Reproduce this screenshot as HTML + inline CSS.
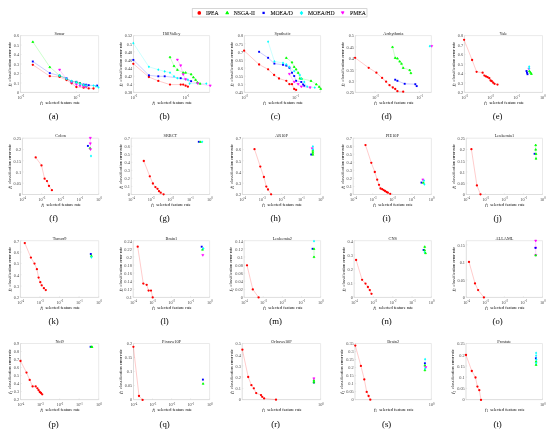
<!DOCTYPE html>
<html><head><meta charset="utf-8"><title>Feature selection results</title>
<style>
html,body{margin:0;padding:0;background:#fff;}
svg{display:block;filter:blur(0.3px);}
.t{font-family:"Liberation Serif",serif;font-size:4.3px;fill:#4a4a4a;}
.tt{fill:#1a1a1a;}
.al{fill:#000;}
.lg{font-family:"Liberation Serif",serif;font-size:5.7px;fill:#111;stroke:#111;stroke-width:0.1;}
.lt{font-family:"Liberation Serif",serif;font-size:8.1px;fill:#111;stroke:#111;stroke-width:0.04;}
</style></head><body>
<svg width="550" height="435" viewBox="0 0 550 435">
<rect width="550" height="435" fill="#fff"/>
<path d="M20.40 35.60H98.60V92.40" fill="none" stroke="#e4e4e4" stroke-width="0.8"/>
<path d="M20.40 35.60V92.40H98.60" fill="none" stroke="#d8d8d8" stroke-width="0.85"/>
<text x="59.50" y="34.80" text-anchor="middle" class="t tt">Sonar</text>
<text x="19.10" y="37.45" text-anchor="end" class="t">0.6</text>
<line x1="20.40" y1="35.60" x2="21.50" y2="35.60" stroke="#d8d8d8" stroke-width="0.6"/>
<text x="19.10" y="46.92" text-anchor="end" class="t">0.5</text>
<line x1="20.40" y1="45.07" x2="21.50" y2="45.07" stroke="#d8d8d8" stroke-width="0.6"/>
<text x="19.10" y="56.38" text-anchor="end" class="t">0.4</text>
<line x1="20.40" y1="54.53" x2="21.50" y2="54.53" stroke="#d8d8d8" stroke-width="0.6"/>
<text x="19.10" y="65.85" text-anchor="end" class="t">0.3</text>
<line x1="20.40" y1="64.00" x2="21.50" y2="64.00" stroke="#d8d8d8" stroke-width="0.6"/>
<text x="19.10" y="75.32" text-anchor="end" class="t">0.2</text>
<line x1="20.40" y1="73.47" x2="21.50" y2="73.47" stroke="#d8d8d8" stroke-width="0.6"/>
<text x="19.10" y="84.78" text-anchor="end" class="t">0.1</text>
<line x1="20.40" y1="82.93" x2="21.50" y2="82.93" stroke="#d8d8d8" stroke-width="0.6"/>
<text x="19.10" y="94.25" text-anchor="end" class="t">0</text>
<line x1="20.40" y1="92.40" x2="21.50" y2="92.40" stroke="#d8d8d8" stroke-width="0.6"/>
<line x1="20.50" y1="92.40" x2="20.50" y2="91.30" stroke="#d8d8d8" stroke-width="0.6"/>
<text x="17.40" y="99.10" class="t">10<tspan dy="-1.8" font-size="3.01">-2</tspan></text>
<line x1="76.30" y1="92.40" x2="76.30" y2="91.30" stroke="#d8d8d8" stroke-width="0.6"/>
<text x="73.20" y="99.10" class="t">10<tspan dy="-1.8" font-size="3.01">-1</tspan></text>
<text x="60.10" y="103.70" text-anchor="middle" class="t al" style="font-size:4.3px"><tspan font-style="italic" style="font-size:4.7px">f</tspan><tspan style="font-size:3.1px" dy="1.5">1</tspan><tspan dy="-1.5" dx="1.2"> selected feature rate</tspan></text>
<text transform="translate(10.92,64.00) rotate(-90)" text-anchor="middle" class="t al" style="font-size:4.3px"><tspan font-style="italic" style="font-size:4.7px">f</tspan><tspan style="font-size:3.1px" dy="1.5">2</tspan><tspan dy="-1.5" dx="0.9"> classification error rate</tspan></text>
<text transform="translate(53.60,118.75) scale(1.08,1)" text-anchor="middle" class="lt">(a)</text>
<polyline points="32.80,64.80 49.80,76.20 59.60,76.90 66.50,80.10 71.60,83.30 76.40,87.00 83.60,87.70 88.70,88.40 93.50,88.50" fill="none" stroke="#ff0000" stroke-width="0.4" stroke-opacity="0.5"/>
<polyline points="32.80,61.50 49.80,73.10 59.60,75.70 66.50,78.30 71.60,81.50 76.40,81.80 80.00,83.30 83.60,84.50 86.20,84.70 88.70,85.20 97.10,85.60" fill="none" stroke="#0000ff" stroke-width="0.4" stroke-opacity="0.5"/>
<polyline points="32.80,41.80 49.80,67.00 59.60,75.50 66.50,78.90 71.60,81.30 76.40,82.30 80.00,83.30 83.60,85.20 86.20,86.20" fill="none" stroke="#00ff00" stroke-width="0.4" stroke-opacity="0.5"/>
<polyline points="59.60,69.90 66.50,79.00 71.60,82.30 76.40,84.50 80.00,85.90 83.60,86.60 86.20,87.00" fill="none" stroke="#ff00ff" stroke-width="0.4" stroke-opacity="0.5"/>
<polyline points="59.60,75.50 66.50,78.60 71.60,81.00 76.40,82.50 80.00,84.00 83.60,85.00 86.20,85.50 93.50,85.60 96.00,86.30 98.50,87.40" fill="none" stroke="#00ffff" stroke-width="0.4" stroke-opacity="0.5"/>
<circle cx="32.80" cy="64.80" r="1.15" fill="#ff0000"/>
<circle cx="49.80" cy="76.20" r="1.15" fill="#ff0000"/>
<circle cx="59.60" cy="76.90" r="1.15" fill="#ff0000"/>
<circle cx="66.50" cy="80.10" r="1.15" fill="#ff0000"/>
<circle cx="71.60" cy="83.30" r="1.15" fill="#ff0000"/>
<circle cx="76.40" cy="87.00" r="1.15" fill="#ff0000"/>
<circle cx="83.60" cy="87.70" r="1.15" fill="#ff0000"/>
<circle cx="88.70" cy="88.40" r="1.15" fill="#ff0000"/>
<circle cx="93.50" cy="88.50" r="1.15" fill="#ff0000"/>
<rect x="31.85" y="60.55" width="1.90" height="1.90" fill="#0000ff"/>
<rect x="48.85" y="72.15" width="1.90" height="1.90" fill="#0000ff"/>
<rect x="58.65" y="74.75" width="1.90" height="1.90" fill="#0000ff"/>
<rect x="65.55" y="77.35" width="1.90" height="1.90" fill="#0000ff"/>
<rect x="70.65" y="80.55" width="1.90" height="1.90" fill="#0000ff"/>
<rect x="75.45" y="80.85" width="1.90" height="1.90" fill="#0000ff"/>
<rect x="79.05" y="82.35" width="1.90" height="1.90" fill="#0000ff"/>
<rect x="82.65" y="83.55" width="1.90" height="1.90" fill="#0000ff"/>
<rect x="85.25" y="83.75" width="1.90" height="1.90" fill="#0000ff"/>
<rect x="87.75" y="84.25" width="1.90" height="1.90" fill="#0000ff"/>
<rect x="96.15" y="84.65" width="1.90" height="1.90" fill="#0000ff"/>
<path d="M32.80 40.85L33.75 42.51L31.85 42.51Z" fill="#00ff00" stroke="#00ff00" stroke-width="0.75" stroke-linejoin="round"/>
<path d="M49.80 66.05L50.75 67.71L48.85 67.71Z" fill="#00ff00" stroke="#00ff00" stroke-width="0.75" stroke-linejoin="round"/>
<path d="M59.60 74.55L60.55 76.21L58.65 76.21Z" fill="#00ff00" stroke="#00ff00" stroke-width="0.75" stroke-linejoin="round"/>
<path d="M66.50 77.95L67.45 79.61L65.55 79.61Z" fill="#00ff00" stroke="#00ff00" stroke-width="0.75" stroke-linejoin="round"/>
<path d="M71.60 80.35L72.55 82.01L70.65 82.01Z" fill="#00ff00" stroke="#00ff00" stroke-width="0.75" stroke-linejoin="round"/>
<path d="M76.40 81.35L77.35 83.01L75.45 83.01Z" fill="#00ff00" stroke="#00ff00" stroke-width="0.75" stroke-linejoin="round"/>
<path d="M80.00 82.35L80.95 84.01L79.05 84.01Z" fill="#00ff00" stroke="#00ff00" stroke-width="0.75" stroke-linejoin="round"/>
<path d="M83.60 84.25L84.55 85.91L82.65 85.91Z" fill="#00ff00" stroke="#00ff00" stroke-width="0.75" stroke-linejoin="round"/>
<path d="M86.20 85.25L87.15 86.91L85.25 86.91Z" fill="#00ff00" stroke="#00ff00" stroke-width="0.75" stroke-linejoin="round"/>
<path d="M59.60 70.95L60.65 69.11L58.55 69.11Z" fill="#ff00ff" stroke="#ff00ff" stroke-width="0.60" stroke-linejoin="round"/>
<path d="M66.50 80.05L67.55 78.21L65.45 78.21Z" fill="#ff00ff" stroke="#ff00ff" stroke-width="0.60" stroke-linejoin="round"/>
<path d="M71.60 83.35L72.65 81.51L70.55 81.51Z" fill="#ff00ff" stroke="#ff00ff" stroke-width="0.60" stroke-linejoin="round"/>
<path d="M76.40 85.55L77.45 83.71L75.35 83.71Z" fill="#ff00ff" stroke="#ff00ff" stroke-width="0.60" stroke-linejoin="round"/>
<path d="M80.00 86.95L81.05 85.11L78.95 85.11Z" fill="#ff00ff" stroke="#ff00ff" stroke-width="0.60" stroke-linejoin="round"/>
<path d="M83.60 87.65L84.65 85.81L82.55 85.81Z" fill="#ff00ff" stroke="#ff00ff" stroke-width="0.60" stroke-linejoin="round"/>
<path d="M86.20 88.05L87.25 86.21L85.15 86.21Z" fill="#ff00ff" stroke="#ff00ff" stroke-width="0.60" stroke-linejoin="round"/>
<path d="M59.60 74.10L60.72 75.50L59.60 76.90L58.48 75.50Z" fill="#00ffff"/>
<path d="M66.50 77.20L67.62 78.60L66.50 80.00L65.38 78.60Z" fill="#00ffff"/>
<path d="M71.60 79.60L72.72 81.00L71.60 82.40L70.48 81.00Z" fill="#00ffff"/>
<path d="M76.40 81.10L77.52 82.50L76.40 83.90L75.28 82.50Z" fill="#00ffff"/>
<path d="M80.00 82.60L81.12 84.00L80.00 85.40L78.88 84.00Z" fill="#00ffff"/>
<path d="M83.60 83.60L84.72 85.00L83.60 86.40L82.48 85.00Z" fill="#00ffff"/>
<path d="M86.20 84.10L87.32 85.50L86.20 86.90L85.08 85.50Z" fill="#00ffff"/>
<path d="M93.50 84.20L94.62 85.60L93.50 87.00L92.38 85.60Z" fill="#00ffff"/>
<path d="M96.00 84.90L97.12 86.30L96.00 87.70L94.88 86.30Z" fill="#00ffff"/>
<path d="M98.50 86.00L99.62 87.40L98.50 88.80L97.38 87.40Z" fill="#00ffff"/>
<path d="M133.50 35.60H209.60V92.40" fill="none" stroke="#e4e4e4" stroke-width="0.8"/>
<path d="M133.50 35.60V92.40H209.60" fill="none" stroke="#d8d8d8" stroke-width="0.85"/>
<text x="171.55" y="34.80" text-anchor="middle" class="t tt">HillValley</text>
<text x="132.20" y="37.45" text-anchor="end" class="t">0.52</text>
<line x1="133.50" y1="35.60" x2="134.60" y2="35.60" stroke="#d8d8d8" stroke-width="0.6"/>
<text x="132.20" y="45.56" text-anchor="end" class="t">0.5</text>
<line x1="133.50" y1="43.71" x2="134.60" y2="43.71" stroke="#d8d8d8" stroke-width="0.6"/>
<text x="132.20" y="53.68" text-anchor="end" class="t">0.48</text>
<line x1="133.50" y1="51.83" x2="134.60" y2="51.83" stroke="#d8d8d8" stroke-width="0.6"/>
<text x="132.20" y="61.79" text-anchor="end" class="t">0.46</text>
<line x1="133.50" y1="59.94" x2="134.60" y2="59.94" stroke="#d8d8d8" stroke-width="0.6"/>
<text x="132.20" y="69.91" text-anchor="end" class="t">0.44</text>
<line x1="133.50" y1="68.06" x2="134.60" y2="68.06" stroke="#d8d8d8" stroke-width="0.6"/>
<text x="132.20" y="78.02" text-anchor="end" class="t">0.42</text>
<line x1="133.50" y1="76.17" x2="134.60" y2="76.17" stroke="#d8d8d8" stroke-width="0.6"/>
<text x="132.20" y="86.14" text-anchor="end" class="t">0.4</text>
<line x1="133.50" y1="84.29" x2="134.60" y2="84.29" stroke="#d8d8d8" stroke-width="0.6"/>
<text x="132.20" y="94.25" text-anchor="end" class="t">0.38</text>
<line x1="133.50" y1="92.40" x2="134.60" y2="92.40" stroke="#d8d8d8" stroke-width="0.6"/>
<line x1="133.60" y1="92.40" x2="133.60" y2="91.30" stroke="#d8d8d8" stroke-width="0.6"/>
<text x="130.50" y="99.10" class="t">10<tspan dy="-1.8" font-size="3.01">-2</tspan></text>
<line x1="185.70" y1="92.40" x2="185.70" y2="91.30" stroke="#d8d8d8" stroke-width="0.6"/>
<text x="182.60" y="99.10" class="t">10<tspan dy="-1.8" font-size="3.01">-1</tspan></text>
<text x="172.15" y="103.70" text-anchor="middle" class="t al" style="font-size:4.3px"><tspan font-style="italic" style="font-size:4.7px">f</tspan><tspan style="font-size:3.1px" dy="1.5">1</tspan><tspan dy="-1.5" dx="1.2"> selected feature rate</tspan></text>
<text transform="translate(121.87,64.00) rotate(-90)" text-anchor="middle" class="t al" style="font-size:4.3px"><tspan font-style="italic" style="font-size:4.7px">f</tspan><tspan style="font-size:3.1px" dy="1.5">2</tspan><tspan dy="-1.5" dx="0.9"> classification error rate</tspan></text>
<text transform="translate(164.60,118.75) scale(1.08,1)" text-anchor="middle" class="lt">(b)</text>
<polyline points="133.30,63.80 148.90,77.00 158.30,80.90 170.00,84.60 180.70,84.60 183.20,84.60 185.60,85.70 187.90,86.70" fill="none" stroke="#ff0000" stroke-width="0.4" stroke-opacity="0.5"/>
<polyline points="133.30,59.90 148.90,75.30 158.30,76.30 164.70,76.30 180.70,78.20 191.10,81.20" fill="none" stroke="#0000ff" stroke-width="0.4" stroke-opacity="0.5"/>
<polyline points="170.00,57.10 174.00,65.90 177.40,69.70 183.20,72.60 185.60,72.60 191.10,74.20 193.40,77.20 195.60,79.70 197.40,82.40 200.10,83.60" fill="none" stroke="#00ff00" stroke-width="0.4" stroke-opacity="0.5"/>
<polyline points="177.40,59.90 180.70,65.60 183.20,74.50 185.60,79.40 197.80,83.50 210.20,85.70" fill="none" stroke="#ff00ff" stroke-width="0.4" stroke-opacity="0.5"/>
<polyline points="133.30,43.20 148.90,66.80 158.30,69.70 164.70,71.40 170.00,72.70 174.00,76.30 177.40,78.20 187.90,79.70 189.60,83.60 206.30,83.60" fill="none" stroke="#00ffff" stroke-width="0.4" stroke-opacity="0.5"/>
<circle cx="133.30" cy="63.80" r="1.15" fill="#ff0000"/>
<circle cx="148.90" cy="77.00" r="1.15" fill="#ff0000"/>
<circle cx="158.30" cy="80.90" r="1.15" fill="#ff0000"/>
<circle cx="170.00" cy="84.60" r="1.15" fill="#ff0000"/>
<circle cx="180.70" cy="84.60" r="1.15" fill="#ff0000"/>
<circle cx="183.20" cy="84.60" r="1.15" fill="#ff0000"/>
<circle cx="185.60" cy="85.70" r="1.15" fill="#ff0000"/>
<circle cx="187.90" cy="86.70" r="1.15" fill="#ff0000"/>
<rect x="132.35" y="58.95" width="1.90" height="1.90" fill="#0000ff"/>
<rect x="147.95" y="74.35" width="1.90" height="1.90" fill="#0000ff"/>
<rect x="157.35" y="75.35" width="1.90" height="1.90" fill="#0000ff"/>
<rect x="163.75" y="75.35" width="1.90" height="1.90" fill="#0000ff"/>
<rect x="179.75" y="77.25" width="1.90" height="1.90" fill="#0000ff"/>
<rect x="190.15" y="80.25" width="1.90" height="1.90" fill="#0000ff"/>
<path d="M170.00 56.15L170.95 57.81L169.05 57.81Z" fill="#00ff00" stroke="#00ff00" stroke-width="0.75" stroke-linejoin="round"/>
<path d="M174.00 64.95L174.95 66.61L173.05 66.61Z" fill="#00ff00" stroke="#00ff00" stroke-width="0.75" stroke-linejoin="round"/>
<path d="M177.40 68.75L178.35 70.41L176.45 70.41Z" fill="#00ff00" stroke="#00ff00" stroke-width="0.75" stroke-linejoin="round"/>
<path d="M183.20 71.65L184.15 73.31L182.25 73.31Z" fill="#00ff00" stroke="#00ff00" stroke-width="0.75" stroke-linejoin="round"/>
<path d="M185.60 71.65L186.55 73.31L184.65 73.31Z" fill="#00ff00" stroke="#00ff00" stroke-width="0.75" stroke-linejoin="round"/>
<path d="M191.10 73.25L192.05 74.91L190.15 74.91Z" fill="#00ff00" stroke="#00ff00" stroke-width="0.75" stroke-linejoin="round"/>
<path d="M193.40 76.25L194.35 77.91L192.45 77.91Z" fill="#00ff00" stroke="#00ff00" stroke-width="0.75" stroke-linejoin="round"/>
<path d="M195.60 78.75L196.55 80.41L194.65 80.41Z" fill="#00ff00" stroke="#00ff00" stroke-width="0.75" stroke-linejoin="round"/>
<path d="M197.40 81.45L198.35 83.11L196.45 83.11Z" fill="#00ff00" stroke="#00ff00" stroke-width="0.75" stroke-linejoin="round"/>
<path d="M200.10 82.65L201.05 84.31L199.15 84.31Z" fill="#00ff00" stroke="#00ff00" stroke-width="0.75" stroke-linejoin="round"/>
<path d="M177.40 60.95L178.45 59.11L176.35 59.11Z" fill="#ff00ff" stroke="#ff00ff" stroke-width="0.60" stroke-linejoin="round"/>
<path d="M180.70 66.65L181.75 64.81L179.65 64.81Z" fill="#ff00ff" stroke="#ff00ff" stroke-width="0.60" stroke-linejoin="round"/>
<path d="M183.20 75.55L184.25 73.71L182.15 73.71Z" fill="#ff00ff" stroke="#ff00ff" stroke-width="0.60" stroke-linejoin="round"/>
<path d="M185.60 80.45L186.65 78.61L184.55 78.61Z" fill="#ff00ff" stroke="#ff00ff" stroke-width="0.60" stroke-linejoin="round"/>
<path d="M197.80 84.55L198.85 82.71L196.75 82.71Z" fill="#ff00ff" stroke="#ff00ff" stroke-width="0.60" stroke-linejoin="round"/>
<path d="M210.20 86.75L211.25 84.91L209.15 84.91Z" fill="#ff00ff" stroke="#ff00ff" stroke-width="0.60" stroke-linejoin="round"/>
<path d="M133.30 41.80L134.42 43.20L133.30 44.60L132.18 43.20Z" fill="#00ffff"/>
<path d="M148.90 65.40L150.02 66.80L148.90 68.20L147.78 66.80Z" fill="#00ffff"/>
<path d="M158.30 68.30L159.42 69.70L158.30 71.10L157.18 69.70Z" fill="#00ffff"/>
<path d="M164.70 70.00L165.82 71.40L164.70 72.80L163.58 71.40Z" fill="#00ffff"/>
<path d="M170.00 71.30L171.12 72.70L170.00 74.10L168.88 72.70Z" fill="#00ffff"/>
<path d="M174.00 74.90L175.12 76.30L174.00 77.70L172.88 76.30Z" fill="#00ffff"/>
<path d="M177.40 76.80L178.52 78.20L177.40 79.60L176.28 78.20Z" fill="#00ffff"/>
<path d="M187.90 78.30L189.02 79.70L187.90 81.10L186.78 79.70Z" fill="#00ffff"/>
<path d="M189.60 82.20L190.72 83.60L189.60 85.00L188.48 83.60Z" fill="#00ffff"/>
<path d="M206.30 82.20L207.42 83.60L206.30 85.00L205.18 83.60Z" fill="#00ffff"/>
<path d="M244.40 35.60H320.60V92.40" fill="none" stroke="#e4e4e4" stroke-width="0.8"/>
<path d="M244.40 35.60V92.40H320.60" fill="none" stroke="#d8d8d8" stroke-width="0.85"/>
<text x="282.50" y="34.80" text-anchor="middle" class="t tt">Synthetic</text>
<text x="243.10" y="37.45" text-anchor="end" class="t">0.8</text>
<line x1="244.40" y1="35.60" x2="245.50" y2="35.60" stroke="#d8d8d8" stroke-width="0.6"/>
<text x="243.10" y="45.56" text-anchor="end" class="t">0.75</text>
<line x1="244.40" y1="43.71" x2="245.50" y2="43.71" stroke="#d8d8d8" stroke-width="0.6"/>
<text x="243.10" y="53.68" text-anchor="end" class="t">0.7</text>
<line x1="244.40" y1="51.83" x2="245.50" y2="51.83" stroke="#d8d8d8" stroke-width="0.6"/>
<text x="243.10" y="61.79" text-anchor="end" class="t">0.65</text>
<line x1="244.40" y1="59.94" x2="245.50" y2="59.94" stroke="#d8d8d8" stroke-width="0.6"/>
<text x="243.10" y="69.91" text-anchor="end" class="t">0.6</text>
<line x1="244.40" y1="68.06" x2="245.50" y2="68.06" stroke="#d8d8d8" stroke-width="0.6"/>
<text x="243.10" y="78.02" text-anchor="end" class="t">0.55</text>
<line x1="244.40" y1="76.17" x2="245.50" y2="76.17" stroke="#d8d8d8" stroke-width="0.6"/>
<text x="243.10" y="86.14" text-anchor="end" class="t">0.5</text>
<line x1="244.40" y1="84.29" x2="245.50" y2="84.29" stroke="#d8d8d8" stroke-width="0.6"/>
<text x="243.10" y="94.25" text-anchor="end" class="t">0.45</text>
<line x1="244.40" y1="92.40" x2="245.50" y2="92.40" stroke="#d8d8d8" stroke-width="0.6"/>
<line x1="244.40" y1="92.40" x2="244.40" y2="91.30" stroke="#d8d8d8" stroke-width="0.6"/>
<text x="241.30" y="99.10" class="t">10<tspan dy="-1.8" font-size="3.01">-2</tspan></text>
<line x1="295.20" y1="92.40" x2="295.20" y2="91.30" stroke="#d8d8d8" stroke-width="0.6"/>
<text x="292.10" y="99.10" class="t">10<tspan dy="-1.8" font-size="3.01">-1</tspan></text>
<text x="283.10" y="103.70" text-anchor="middle" class="t al" style="font-size:4.3px"><tspan font-style="italic" style="font-size:4.7px">f</tspan><tspan style="font-size:3.1px" dy="1.5">1</tspan><tspan dy="-1.5" dx="1.2"> selected feature rate</tspan></text>
<text transform="translate(232.77,64.00) rotate(-90)" text-anchor="middle" class="t al" style="font-size:4.3px"><tspan font-style="italic" style="font-size:4.7px">f</tspan><tspan style="font-size:3.1px" dy="1.5">2</tspan><tspan dy="-1.5" dx="0.9"> classification error rate</tspan></text>
<text transform="translate(275.60,118.75) scale(1.08,1)" text-anchor="middle" class="lt">(c)</text>
<polyline points="244.10,50.70 259.10,64.50 268.10,69.30 274.10,75.00 279.00,78.50 286.30,80.80 289.40,84.20 292.00,84.20 294.20,89.00 296.10,89.90" fill="none" stroke="#ff0000" stroke-width="0.4" stroke-opacity="0.5"/>
<polyline points="259.10,51.80 268.10,57.80 274.40,63.60 283.00,64.80 286.30,65.60 289.40,67.80 292.00,72.70 294.20,76.00 296.10,80.80 301.30,82.00 303.10,84.50 304.30,85.70" fill="none" stroke="#0000ff" stroke-width="0.4" stroke-opacity="0.5"/>
<polyline points="286.30,57.80 292.00,62.30 294.20,66.80 296.10,69.30 298.20,72.70 299.90,78.40 301.60,78.60 311.00,80.80 316.30,84.20 319.20,86.70 320.70,88.70" fill="none" stroke="#00ff00" stroke-width="0.4" stroke-opacity="0.5"/>
<polyline points="289.40,74.10 294.20,82.00 298.20,84.20 301.30,86.70 310.10,87.60" fill="none" stroke="#ff00ff" stroke-width="0.4" stroke-opacity="0.5"/>
<polyline points="268.10,41.70 274.40,61.40 283.00,63.00 286.30,64.40 289.40,66.80 294.20,71.20 299.90,75.00 301.30,78.70 304.30,82.00 307.20,86.70 314.80,87.60" fill="none" stroke="#00ffff" stroke-width="0.4" stroke-opacity="0.5"/>
<circle cx="244.10" cy="50.70" r="1.15" fill="#ff0000"/>
<circle cx="259.10" cy="64.50" r="1.15" fill="#ff0000"/>
<circle cx="268.10" cy="69.30" r="1.15" fill="#ff0000"/>
<circle cx="274.10" cy="75.00" r="1.15" fill="#ff0000"/>
<circle cx="279.00" cy="78.50" r="1.15" fill="#ff0000"/>
<circle cx="286.30" cy="80.80" r="1.15" fill="#ff0000"/>
<circle cx="289.40" cy="84.20" r="1.15" fill="#ff0000"/>
<circle cx="292.00" cy="84.20" r="1.15" fill="#ff0000"/>
<circle cx="294.20" cy="89.00" r="1.15" fill="#ff0000"/>
<circle cx="296.10" cy="89.90" r="1.15" fill="#ff0000"/>
<rect x="258.15" y="50.85" width="1.90" height="1.90" fill="#0000ff"/>
<rect x="267.15" y="56.85" width="1.90" height="1.90" fill="#0000ff"/>
<rect x="273.45" y="62.65" width="1.90" height="1.90" fill="#0000ff"/>
<rect x="282.05" y="63.85" width="1.90" height="1.90" fill="#0000ff"/>
<rect x="285.35" y="64.65" width="1.90" height="1.90" fill="#0000ff"/>
<rect x="288.45" y="66.85" width="1.90" height="1.90" fill="#0000ff"/>
<rect x="291.05" y="71.75" width="1.90" height="1.90" fill="#0000ff"/>
<rect x="293.25" y="75.05" width="1.90" height="1.90" fill="#0000ff"/>
<rect x="295.15" y="79.85" width="1.90" height="1.90" fill="#0000ff"/>
<rect x="300.35" y="81.05" width="1.90" height="1.90" fill="#0000ff"/>
<rect x="302.15" y="83.55" width="1.90" height="1.90" fill="#0000ff"/>
<rect x="303.35" y="84.75" width="1.90" height="1.90" fill="#0000ff"/>
<path d="M286.30 56.85L287.25 58.51L285.35 58.51Z" fill="#00ff00" stroke="#00ff00" stroke-width="0.75" stroke-linejoin="round"/>
<path d="M292.00 61.35L292.95 63.01L291.05 63.01Z" fill="#00ff00" stroke="#00ff00" stroke-width="0.75" stroke-linejoin="round"/>
<path d="M294.20 65.85L295.15 67.51L293.25 67.51Z" fill="#00ff00" stroke="#00ff00" stroke-width="0.75" stroke-linejoin="round"/>
<path d="M296.10 68.35L297.05 70.01L295.15 70.01Z" fill="#00ff00" stroke="#00ff00" stroke-width="0.75" stroke-linejoin="round"/>
<path d="M298.20 71.75L299.15 73.41L297.25 73.41Z" fill="#00ff00" stroke="#00ff00" stroke-width="0.75" stroke-linejoin="round"/>
<path d="M299.90 77.45L300.85 79.11L298.95 79.11Z" fill="#00ff00" stroke="#00ff00" stroke-width="0.75" stroke-linejoin="round"/>
<path d="M301.60 77.65L302.55 79.31L300.65 79.31Z" fill="#00ff00" stroke="#00ff00" stroke-width="0.75" stroke-linejoin="round"/>
<path d="M311.00 79.85L311.95 81.51L310.05 81.51Z" fill="#00ff00" stroke="#00ff00" stroke-width="0.75" stroke-linejoin="round"/>
<path d="M316.30 83.25L317.25 84.91L315.35 84.91Z" fill="#00ff00" stroke="#00ff00" stroke-width="0.75" stroke-linejoin="round"/>
<path d="M319.20 85.75L320.15 87.41L318.25 87.41Z" fill="#00ff00" stroke="#00ff00" stroke-width="0.75" stroke-linejoin="round"/>
<path d="M320.70 87.75L321.65 89.41L319.75 89.41Z" fill="#00ff00" stroke="#00ff00" stroke-width="0.75" stroke-linejoin="round"/>
<path d="M289.40 75.15L290.45 73.31L288.35 73.31Z" fill="#ff00ff" stroke="#ff00ff" stroke-width="0.60" stroke-linejoin="round"/>
<path d="M294.20 83.05L295.25 81.21L293.15 81.21Z" fill="#ff00ff" stroke="#ff00ff" stroke-width="0.60" stroke-linejoin="round"/>
<path d="M298.20 85.25L299.25 83.41L297.15 83.41Z" fill="#ff00ff" stroke="#ff00ff" stroke-width="0.60" stroke-linejoin="round"/>
<path d="M301.30 87.75L302.35 85.91L300.25 85.91Z" fill="#ff00ff" stroke="#ff00ff" stroke-width="0.60" stroke-linejoin="round"/>
<path d="M310.10 88.65L311.15 86.81L309.05 86.81Z" fill="#ff00ff" stroke="#ff00ff" stroke-width="0.60" stroke-linejoin="round"/>
<path d="M268.10 40.30L269.22 41.70L268.10 43.10L266.98 41.70Z" fill="#00ffff"/>
<path d="M274.40 60.00L275.52 61.40L274.40 62.80L273.28 61.40Z" fill="#00ffff"/>
<path d="M283.00 61.60L284.12 63.00L283.00 64.40L281.88 63.00Z" fill="#00ffff"/>
<path d="M286.30 63.00L287.42 64.40L286.30 65.80L285.18 64.40Z" fill="#00ffff"/>
<path d="M289.40 65.40L290.52 66.80L289.40 68.20L288.28 66.80Z" fill="#00ffff"/>
<path d="M294.20 69.80L295.32 71.20L294.20 72.60L293.08 71.20Z" fill="#00ffff"/>
<path d="M299.90 73.60L301.02 75.00L299.90 76.40L298.78 75.00Z" fill="#00ffff"/>
<path d="M301.30 77.30L302.42 78.70L301.30 80.10L300.18 78.70Z" fill="#00ffff"/>
<path d="M304.30 80.60L305.42 82.00L304.30 83.40L303.18 82.00Z" fill="#00ffff"/>
<path d="M307.20 85.30L308.32 86.70L307.20 88.10L306.08 86.70Z" fill="#00ffff"/>
<path d="M314.80 86.20L315.92 87.60L314.80 89.00L313.68 87.60Z" fill="#00ffff"/>
<path d="M355.30 35.60H431.40V92.40" fill="none" stroke="#e4e4e4" stroke-width="0.8"/>
<path d="M355.30 35.60V92.40H431.40" fill="none" stroke="#d8d8d8" stroke-width="0.85"/>
<text x="393.35" y="34.80" text-anchor="middle" class="t tt">Arrhythmia</text>
<text x="354.00" y="37.45" text-anchor="end" class="t">0.5</text>
<line x1="355.30" y1="35.60" x2="356.40" y2="35.60" stroke="#d8d8d8" stroke-width="0.6"/>
<text x="354.00" y="48.81" text-anchor="end" class="t">0.45</text>
<line x1="355.30" y1="46.96" x2="356.40" y2="46.96" stroke="#d8d8d8" stroke-width="0.6"/>
<text x="354.00" y="60.17" text-anchor="end" class="t">0.4</text>
<line x1="355.30" y1="58.32" x2="356.40" y2="58.32" stroke="#d8d8d8" stroke-width="0.6"/>
<text x="354.00" y="71.53" text-anchor="end" class="t">0.35</text>
<line x1="355.30" y1="69.68" x2="356.40" y2="69.68" stroke="#d8d8d8" stroke-width="0.6"/>
<text x="354.00" y="82.89" text-anchor="end" class="t">0.3</text>
<line x1="355.30" y1="81.04" x2="356.40" y2="81.04" stroke="#d8d8d8" stroke-width="0.6"/>
<text x="354.00" y="94.25" text-anchor="end" class="t">0.25</text>
<line x1="355.30" y1="92.40" x2="356.40" y2="92.40" stroke="#d8d8d8" stroke-width="0.6"/>
<line x1="375.20" y1="92.40" x2="375.20" y2="91.30" stroke="#d8d8d8" stroke-width="0.6"/>
<text x="372.10" y="99.10" class="t">10<tspan dy="-1.8" font-size="3.01">-2</tspan></text>
<line x1="419.40" y1="92.40" x2="419.40" y2="91.30" stroke="#d8d8d8" stroke-width="0.6"/>
<text x="416.30" y="99.10" class="t">10<tspan dy="-1.8" font-size="3.01">-1</tspan></text>
<text x="393.95" y="103.70" text-anchor="middle" class="t al" style="font-size:4.3px"><tspan font-style="italic" style="font-size:4.7px">f</tspan><tspan style="font-size:3.1px" dy="1.5">1</tspan><tspan dy="-1.5" dx="1.2"> selected feature rate</tspan></text>
<text transform="translate(343.68,64.00) rotate(-90)" text-anchor="middle" class="t al" style="font-size:4.3px"><tspan font-style="italic" style="font-size:4.7px">f</tspan><tspan style="font-size:3.1px" dy="1.5">2</tspan><tspan dy="-1.5" dx="0.9"> classification error rate</tspan></text>
<text transform="translate(386.60,118.75) scale(1.08,1)" text-anchor="middle" class="lt">(d)</text>
<polyline points="355.10,57.80 368.70,67.80 376.40,72.70 382.10,77.90 386.10,81.70 389.50,85.20 392.80,87.50 395.20,89.00 397.40,91.20 403.20,91.70" fill="none" stroke="#ff0000" stroke-width="0.4" stroke-opacity="0.5"/>
<polyline points="395.20,79.70 397.40,80.80 404.70,83.80 415.30,84.20 416.70,86.10" fill="none" stroke="#0000ff" stroke-width="0.4" stroke-opacity="0.5"/>
<polyline points="392.50,46.90 395.20,57.80 397.40,58.40 399.70,61.40 401.50,63.60 403.20,67.80 409.70,70.00 410.90,73.00" fill="none" stroke="#00ff00" stroke-width="0.4" stroke-opacity="0.5"/>
<circle cx="355.10" cy="57.80" r="1.15" fill="#ff0000"/>
<circle cx="368.70" cy="67.80" r="1.15" fill="#ff0000"/>
<circle cx="376.40" cy="72.70" r="1.15" fill="#ff0000"/>
<circle cx="382.10" cy="77.90" r="1.15" fill="#ff0000"/>
<circle cx="386.10" cy="81.70" r="1.15" fill="#ff0000"/>
<circle cx="389.50" cy="85.20" r="1.15" fill="#ff0000"/>
<circle cx="392.80" cy="87.50" r="1.15" fill="#ff0000"/>
<circle cx="395.20" cy="89.00" r="1.15" fill="#ff0000"/>
<circle cx="397.40" cy="91.20" r="1.15" fill="#ff0000"/>
<circle cx="403.20" cy="91.70" r="1.15" fill="#ff0000"/>
<rect x="394.25" y="78.75" width="1.90" height="1.90" fill="#0000ff"/>
<rect x="396.45" y="79.85" width="1.90" height="1.90" fill="#0000ff"/>
<rect x="403.75" y="82.85" width="1.90" height="1.90" fill="#0000ff"/>
<rect x="414.35" y="83.25" width="1.90" height="1.90" fill="#0000ff"/>
<rect x="415.75" y="85.15" width="1.90" height="1.90" fill="#0000ff"/>
<path d="M392.50 45.95L393.45 47.61L391.55 47.61Z" fill="#00ff00" stroke="#00ff00" stroke-width="0.75" stroke-linejoin="round"/>
<path d="M395.20 56.85L396.15 58.51L394.25 58.51Z" fill="#00ff00" stroke="#00ff00" stroke-width="0.75" stroke-linejoin="round"/>
<path d="M397.40 57.45L398.35 59.11L396.45 59.11Z" fill="#00ff00" stroke="#00ff00" stroke-width="0.75" stroke-linejoin="round"/>
<path d="M399.70 60.45L400.65 62.11L398.75 62.11Z" fill="#00ff00" stroke="#00ff00" stroke-width="0.75" stroke-linejoin="round"/>
<path d="M401.50 62.65L402.45 64.31L400.55 64.31Z" fill="#00ff00" stroke="#00ff00" stroke-width="0.75" stroke-linejoin="round"/>
<path d="M403.20 66.85L404.15 68.51L402.25 68.51Z" fill="#00ff00" stroke="#00ff00" stroke-width="0.75" stroke-linejoin="round"/>
<path d="M409.70 69.05L410.65 70.71L408.75 70.71Z" fill="#00ff00" stroke="#00ff00" stroke-width="0.75" stroke-linejoin="round"/>
<path d="M410.90 72.05L411.85 73.71L409.95 73.71Z" fill="#00ff00" stroke="#00ff00" stroke-width="0.75" stroke-linejoin="round"/>
<path d="M431.70 47.25L432.75 45.41L430.65 45.41Z" fill="#ff00ff" stroke="#ff00ff" stroke-width="0.60" stroke-linejoin="round"/>
<path d="M429.80 44.80L430.92 46.20L429.80 47.60L428.68 46.20Z" fill="#00ffff"/>
<path d="M464.40 35.60H542.50V92.40" fill="none" stroke="#e4e4e4" stroke-width="0.8"/>
<path d="M464.40 35.60V92.40H542.50" fill="none" stroke="#d8d8d8" stroke-width="0.85"/>
<text x="503.45" y="34.80" text-anchor="middle" class="t tt">Yale</text>
<text x="463.10" y="37.45" text-anchor="end" class="t">0.8</text>
<line x1="464.40" y1="35.60" x2="465.50" y2="35.60" stroke="#d8d8d8" stroke-width="0.6"/>
<text x="463.10" y="46.92" text-anchor="end" class="t">0.7</text>
<line x1="464.40" y1="45.07" x2="465.50" y2="45.07" stroke="#d8d8d8" stroke-width="0.6"/>
<text x="463.10" y="56.38" text-anchor="end" class="t">0.6</text>
<line x1="464.40" y1="54.53" x2="465.50" y2="54.53" stroke="#d8d8d8" stroke-width="0.6"/>
<text x="463.10" y="65.85" text-anchor="end" class="t">0.5</text>
<line x1="464.40" y1="64.00" x2="465.50" y2="64.00" stroke="#d8d8d8" stroke-width="0.6"/>
<text x="463.10" y="75.32" text-anchor="end" class="t">0.4</text>
<line x1="464.40" y1="73.47" x2="465.50" y2="73.47" stroke="#d8d8d8" stroke-width="0.6"/>
<text x="463.10" y="84.78" text-anchor="end" class="t">0.3</text>
<line x1="464.40" y1="82.93" x2="465.50" y2="82.93" stroke="#d8d8d8" stroke-width="0.6"/>
<text x="463.10" y="94.25" text-anchor="end" class="t">0.2</text>
<line x1="464.40" y1="92.40" x2="465.50" y2="92.40" stroke="#d8d8d8" stroke-width="0.6"/>
<line x1="464.40" y1="92.40" x2="464.40" y2="91.30" stroke="#d8d8d8" stroke-width="0.6"/>
<text x="461.30" y="99.10" class="t">10<tspan dy="-1.8" font-size="3.01">-3</tspan></text>
<line x1="490.40" y1="92.40" x2="490.40" y2="91.30" stroke="#d8d8d8" stroke-width="0.6"/>
<text x="487.30" y="99.10" class="t">10<tspan dy="-1.8" font-size="3.01">-2</tspan></text>
<line x1="516.40" y1="92.40" x2="516.40" y2="91.30" stroke="#d8d8d8" stroke-width="0.6"/>
<text x="513.30" y="99.10" class="t">10<tspan dy="-1.8" font-size="3.01">-1</tspan></text>
<line x1="542.50" y1="92.40" x2="542.50" y2="91.30" stroke="#d8d8d8" stroke-width="0.6"/>
<text x="539.90" y="99.10" class="t">10<tspan dy="-1.8" font-size="3.01">0</tspan></text>
<text x="504.05" y="103.70" text-anchor="middle" class="t al" style="font-size:4.3px"><tspan font-style="italic" style="font-size:4.7px">f</tspan><tspan style="font-size:3.1px" dy="1.5">1</tspan><tspan dy="-1.5" dx="1.2"> selected feature rate</tspan></text>
<text transform="translate(454.92,64.00) rotate(-90)" text-anchor="middle" class="t al" style="font-size:4.3px"><tspan font-style="italic" style="font-size:4.7px">f</tspan><tspan style="font-size:3.1px" dy="1.5">2</tspan><tspan dy="-1.5" dx="0.9"> classification error rate</tspan></text>
<text transform="translate(497.60,118.75) scale(1.08,1)" text-anchor="middle" class="lt">(e)</text>
<polyline points="464.10,39.80 472.10,60.00 476.60,71.80 482.60,72.70 484.40,75.60 486.00,76.40 487.60,77.20 489.30,78.20 490.60,80.50 491.80,81.20 493.20,82.70 494.50,83.80 497.50,84.60" fill="none" stroke="#ff0000" stroke-width="0.4" stroke-opacity="0.5"/>
<polyline points="526.50,71.00 527.00,72.70 527.50,74.20" fill="none" stroke="#0000ff" stroke-width="0.4" stroke-opacity="0.5"/>
<polyline points="529.40,71.00 530.50,72.50 531.40,73.80" fill="none" stroke="#00ff00" stroke-width="0.4" stroke-opacity="0.5"/>
<polyline points="529.20,66.60 529.20,68.40" fill="none" stroke="#00ffff" stroke-width="0.4" stroke-opacity="0.5"/>
<circle cx="464.10" cy="39.80" r="1.15" fill="#ff0000"/>
<circle cx="472.10" cy="60.00" r="1.15" fill="#ff0000"/>
<circle cx="476.60" cy="71.80" r="1.15" fill="#ff0000"/>
<circle cx="482.60" cy="72.70" r="1.15" fill="#ff0000"/>
<circle cx="484.40" cy="75.60" r="1.15" fill="#ff0000"/>
<circle cx="486.00" cy="76.40" r="1.15" fill="#ff0000"/>
<circle cx="487.60" cy="77.20" r="1.15" fill="#ff0000"/>
<circle cx="489.30" cy="78.20" r="1.15" fill="#ff0000"/>
<circle cx="490.60" cy="80.50" r="1.15" fill="#ff0000"/>
<circle cx="491.80" cy="81.20" r="1.15" fill="#ff0000"/>
<circle cx="493.20" cy="82.70" r="1.15" fill="#ff0000"/>
<circle cx="494.50" cy="83.80" r="1.15" fill="#ff0000"/>
<circle cx="497.50" cy="84.60" r="1.15" fill="#ff0000"/>
<rect x="525.55" y="70.05" width="1.90" height="1.90" fill="#0000ff"/>
<rect x="526.05" y="71.75" width="1.90" height="1.90" fill="#0000ff"/>
<rect x="526.55" y="73.25" width="1.90" height="1.90" fill="#0000ff"/>
<path d="M529.40 70.05L530.35 71.71L528.45 71.71Z" fill="#00ff00" stroke="#00ff00" stroke-width="0.75" stroke-linejoin="round"/>
<path d="M530.50 71.55L531.45 73.21L529.55 73.21Z" fill="#00ff00" stroke="#00ff00" stroke-width="0.75" stroke-linejoin="round"/>
<path d="M531.40 72.85L532.35 74.51L530.45 74.51Z" fill="#00ff00" stroke="#00ff00" stroke-width="0.75" stroke-linejoin="round"/>
<path d="M528.90 69.85L529.95 68.01L527.85 68.01Z" fill="#ff00ff" stroke="#ff00ff" stroke-width="0.60" stroke-linejoin="round"/>
<path d="M529.20 65.20L530.32 66.60L529.20 68.00L528.08 66.60Z" fill="#00ffff"/>
<path d="M529.20 67.00L530.32 68.40L529.20 69.80L528.08 68.40Z" fill="#00ffff"/>
<path d="M22.40 138.20H98.70V194.50" fill="none" stroke="#e4e4e4" stroke-width="0.8"/>
<path d="M22.40 138.20V194.50H98.70" fill="none" stroke="#d8d8d8" stroke-width="0.85"/>
<text x="60.55" y="137.40" text-anchor="middle" class="t tt">Colon</text>
<text x="21.10" y="140.05" text-anchor="end" class="t">0.25</text>
<line x1="22.40" y1="138.20" x2="23.50" y2="138.20" stroke="#d8d8d8" stroke-width="0.6"/>
<text x="21.10" y="151.31" text-anchor="end" class="t">0.2</text>
<line x1="22.40" y1="149.46" x2="23.50" y2="149.46" stroke="#d8d8d8" stroke-width="0.6"/>
<text x="21.10" y="162.57" text-anchor="end" class="t">0.15</text>
<line x1="22.40" y1="160.72" x2="23.50" y2="160.72" stroke="#d8d8d8" stroke-width="0.6"/>
<text x="21.10" y="173.83" text-anchor="end" class="t">0.1</text>
<line x1="22.40" y1="171.98" x2="23.50" y2="171.98" stroke="#d8d8d8" stroke-width="0.6"/>
<text x="21.10" y="185.09" text-anchor="end" class="t">0.05</text>
<line x1="22.40" y1="183.24" x2="23.50" y2="183.24" stroke="#d8d8d8" stroke-width="0.6"/>
<text x="21.10" y="196.35" text-anchor="end" class="t">0</text>
<line x1="22.40" y1="194.50" x2="23.50" y2="194.50" stroke="#d8d8d8" stroke-width="0.6"/>
<line x1="22.40" y1="194.50" x2="22.40" y2="193.40" stroke="#d8d8d8" stroke-width="0.6"/>
<text x="19.30" y="201.20" class="t">10<tspan dy="-1.8" font-size="3.01">-4</tspan></text>
<line x1="41.48" y1="194.50" x2="41.48" y2="193.40" stroke="#d8d8d8" stroke-width="0.6"/>
<text x="38.37" y="201.20" class="t">10<tspan dy="-1.8" font-size="3.01">-3</tspan></text>
<line x1="60.55" y1="194.50" x2="60.55" y2="193.40" stroke="#d8d8d8" stroke-width="0.6"/>
<text x="57.45" y="201.20" class="t">10<tspan dy="-1.8" font-size="3.01">-2</tspan></text>
<line x1="79.62" y1="194.50" x2="79.62" y2="193.40" stroke="#d8d8d8" stroke-width="0.6"/>
<text x="76.52" y="201.20" class="t">10<tspan dy="-1.8" font-size="3.01">-1</tspan></text>
<line x1="98.70" y1="194.50" x2="98.70" y2="193.40" stroke="#d8d8d8" stroke-width="0.6"/>
<text x="96.10" y="201.20" class="t">10<tspan dy="-1.8" font-size="3.01">0</tspan></text>
<text x="61.15" y="205.80" text-anchor="middle" class="t al" style="font-size:4.3px"><tspan font-style="italic" style="font-size:4.7px">f</tspan><tspan style="font-size:3.1px" dy="1.5">1</tspan><tspan dy="-1.5" dx="1.2"> selected feature rate</tspan></text>
<text transform="translate(10.77,166.35) rotate(-90)" text-anchor="middle" class="t al" style="font-size:4.3px"><tspan font-style="italic" style="font-size:4.7px">f</tspan><tspan style="font-size:3.1px" dy="1.5">2</tspan><tspan dy="-1.5" dx="0.9"> classification error rate</tspan></text>
<text transform="translate(53.60,220.75) scale(1.08,1)" text-anchor="middle" class="lt">(f)</text>
<polyline points="35.70,157.40 41.50,165.40 44.60,178.70 47.00,181.10 49.00,185.90 51.90,190.20" fill="none" stroke="#ff0000" stroke-width="0.4" stroke-opacity="0.5"/>
<polyline points="90.30,138.10 90.30,143.60 90.50,149.50" fill="none" stroke="#ff00ff" stroke-width="0.4" stroke-opacity="0.5"/>
<circle cx="35.70" cy="157.40" r="1.15" fill="#ff0000"/>
<circle cx="41.50" cy="165.40" r="1.15" fill="#ff0000"/>
<circle cx="44.60" cy="178.70" r="1.15" fill="#ff0000"/>
<circle cx="47.00" cy="181.10" r="1.15" fill="#ff0000"/>
<circle cx="49.00" cy="185.90" r="1.15" fill="#ff0000"/>
<circle cx="51.90" cy="190.20" r="1.15" fill="#ff0000"/>
<rect x="86.95" y="144.95" width="1.90" height="1.90" fill="#0000ff"/>
<path d="M90.00 147.15L90.95 148.81L89.05 148.81Z" fill="#00ff00" stroke="#00ff00" stroke-width="0.75" stroke-linejoin="round"/>
<path d="M90.30 139.15L91.35 137.31L89.25 137.31Z" fill="#ff00ff" stroke="#ff00ff" stroke-width="0.60" stroke-linejoin="round"/>
<path d="M90.30 144.65L91.35 142.81L89.25 142.81Z" fill="#ff00ff" stroke="#ff00ff" stroke-width="0.60" stroke-linejoin="round"/>
<path d="M90.50 150.55L91.55 148.71L89.45 148.71Z" fill="#ff00ff" stroke="#ff00ff" stroke-width="0.60" stroke-linejoin="round"/>
<path d="M91.00 154.60L92.12 156.00L91.00 157.40L89.88 156.00Z" fill="#00ffff"/>
<path d="M131.20 138.20H209.60V194.50" fill="none" stroke="#e4e4e4" stroke-width="0.8"/>
<path d="M131.20 138.20V194.50H209.60" fill="none" stroke="#d8d8d8" stroke-width="0.85"/>
<text x="170.40" y="137.40" text-anchor="middle" class="t tt">SRBCT</text>
<text x="129.90" y="140.05" text-anchor="end" class="t">0.7</text>
<line x1="131.20" y1="138.20" x2="132.30" y2="138.20" stroke="#d8d8d8" stroke-width="0.6"/>
<text x="129.90" y="148.09" text-anchor="end" class="t">0.6</text>
<line x1="131.20" y1="146.24" x2="132.30" y2="146.24" stroke="#d8d8d8" stroke-width="0.6"/>
<text x="129.90" y="156.14" text-anchor="end" class="t">0.5</text>
<line x1="131.20" y1="154.29" x2="132.30" y2="154.29" stroke="#d8d8d8" stroke-width="0.6"/>
<text x="129.90" y="164.18" text-anchor="end" class="t">0.4</text>
<line x1="131.20" y1="162.33" x2="132.30" y2="162.33" stroke="#d8d8d8" stroke-width="0.6"/>
<text x="129.90" y="172.22" text-anchor="end" class="t">0.3</text>
<line x1="131.20" y1="170.37" x2="132.30" y2="170.37" stroke="#d8d8d8" stroke-width="0.6"/>
<text x="129.90" y="180.26" text-anchor="end" class="t">0.2</text>
<line x1="131.20" y1="178.41" x2="132.30" y2="178.41" stroke="#d8d8d8" stroke-width="0.6"/>
<text x="129.90" y="188.31" text-anchor="end" class="t">0.1</text>
<line x1="131.20" y1="186.46" x2="132.30" y2="186.46" stroke="#d8d8d8" stroke-width="0.6"/>
<text x="129.90" y="196.35" text-anchor="end" class="t">0</text>
<line x1="131.20" y1="194.50" x2="132.30" y2="194.50" stroke="#d8d8d8" stroke-width="0.6"/>
<line x1="131.20" y1="194.50" x2="131.20" y2="193.40" stroke="#d8d8d8" stroke-width="0.6"/>
<text x="128.10" y="201.20" class="t">10<tspan dy="-1.8" font-size="3.01">-4</tspan></text>
<line x1="150.80" y1="194.50" x2="150.80" y2="193.40" stroke="#d8d8d8" stroke-width="0.6"/>
<text x="147.70" y="201.20" class="t">10<tspan dy="-1.8" font-size="3.01">-3</tspan></text>
<line x1="170.40" y1="194.50" x2="170.40" y2="193.40" stroke="#d8d8d8" stroke-width="0.6"/>
<text x="167.30" y="201.20" class="t">10<tspan dy="-1.8" font-size="3.01">-2</tspan></text>
<line x1="190.00" y1="194.50" x2="190.00" y2="193.40" stroke="#d8d8d8" stroke-width="0.6"/>
<text x="186.90" y="201.20" class="t">10<tspan dy="-1.8" font-size="3.01">-1</tspan></text>
<line x1="209.60" y1="194.50" x2="209.60" y2="193.40" stroke="#d8d8d8" stroke-width="0.6"/>
<text x="207.00" y="201.20" class="t">10<tspan dy="-1.8" font-size="3.01">0</tspan></text>
<text x="171.00" y="205.80" text-anchor="middle" class="t al" style="font-size:4.3px"><tspan font-style="italic" style="font-size:4.7px">f</tspan><tspan style="font-size:3.1px" dy="1.5">1</tspan><tspan dy="-1.5" dx="1.2"> selected feature rate</tspan></text>
<text transform="translate(121.72,166.35) rotate(-90)" text-anchor="middle" class="t al" style="font-size:4.3px"><tspan font-style="italic" style="font-size:4.7px">f</tspan><tspan style="font-size:3.1px" dy="1.5">2</tspan><tspan dy="-1.5" dx="0.9"> classification error rate</tspan></text>
<text transform="translate(164.60,220.75) scale(1.08,1)" text-anchor="middle" class="lt">(g)</text>
<polyline points="143.80,161.00 149.80,176.30 152.90,183.50 155.40,187.10 157.50,188.80 159.00,191.20 160.70,192.70 163.60,194.30" fill="none" stroke="#ff0000" stroke-width="0.4" stroke-opacity="0.5"/>
<circle cx="143.80" cy="161.00" r="1.15" fill="#ff0000"/>
<circle cx="149.80" cy="176.30" r="1.15" fill="#ff0000"/>
<circle cx="152.90" cy="183.50" r="1.15" fill="#ff0000"/>
<circle cx="155.40" cy="187.10" r="1.15" fill="#ff0000"/>
<circle cx="157.50" cy="188.80" r="1.15" fill="#ff0000"/>
<circle cx="159.00" cy="191.20" r="1.15" fill="#ff0000"/>
<circle cx="160.70" cy="192.70" r="1.15" fill="#ff0000"/>
<circle cx="163.60" cy="194.30" r="1.15" fill="#ff0000"/>
<rect x="197.85" y="140.85" width="1.90" height="1.90" fill="#0000ff"/>
<path d="M200.50 140.85L201.45 142.51L199.55 142.51Z" fill="#00ff00" stroke="#00ff00" stroke-width="0.75" stroke-linejoin="round"/>
<path d="M202.20 140.40L203.32 141.80L202.20 143.20L201.08 141.80Z" fill="#00ffff"/>
<path d="M242.40 138.20H320.60V194.50" fill="none" stroke="#e4e4e4" stroke-width="0.8"/>
<path d="M242.40 138.20V194.50H320.60" fill="none" stroke="#d8d8d8" stroke-width="0.85"/>
<text x="281.50" y="137.40" text-anchor="middle" class="t tt">AR10P</text>
<text x="241.10" y="140.05" text-anchor="end" class="t">0.7</text>
<line x1="242.40" y1="138.20" x2="243.50" y2="138.20" stroke="#d8d8d8" stroke-width="0.6"/>
<text x="241.10" y="151.31" text-anchor="end" class="t">0.6</text>
<line x1="242.40" y1="149.46" x2="243.50" y2="149.46" stroke="#d8d8d8" stroke-width="0.6"/>
<text x="241.10" y="162.57" text-anchor="end" class="t">0.5</text>
<line x1="242.40" y1="160.72" x2="243.50" y2="160.72" stroke="#d8d8d8" stroke-width="0.6"/>
<text x="241.10" y="173.83" text-anchor="end" class="t">0.4</text>
<line x1="242.40" y1="171.98" x2="243.50" y2="171.98" stroke="#d8d8d8" stroke-width="0.6"/>
<text x="241.10" y="185.09" text-anchor="end" class="t">0.3</text>
<line x1="242.40" y1="183.24" x2="243.50" y2="183.24" stroke="#d8d8d8" stroke-width="0.6"/>
<text x="241.10" y="196.35" text-anchor="end" class="t">0.2</text>
<line x1="242.40" y1="194.50" x2="243.50" y2="194.50" stroke="#d8d8d8" stroke-width="0.6"/>
<line x1="242.40" y1="194.50" x2="242.40" y2="193.40" stroke="#d8d8d8" stroke-width="0.6"/>
<text x="239.30" y="201.20" class="t">10<tspan dy="-1.8" font-size="3.01">-4</tspan></text>
<line x1="261.95" y1="194.50" x2="261.95" y2="193.40" stroke="#d8d8d8" stroke-width="0.6"/>
<text x="258.85" y="201.20" class="t">10<tspan dy="-1.8" font-size="3.01">-3</tspan></text>
<line x1="281.50" y1="194.50" x2="281.50" y2="193.40" stroke="#d8d8d8" stroke-width="0.6"/>
<text x="278.40" y="201.20" class="t">10<tspan dy="-1.8" font-size="3.01">-2</tspan></text>
<line x1="301.05" y1="194.50" x2="301.05" y2="193.40" stroke="#d8d8d8" stroke-width="0.6"/>
<text x="297.95" y="201.20" class="t">10<tspan dy="-1.8" font-size="3.01">-1</tspan></text>
<line x1="320.60" y1="194.50" x2="320.60" y2="193.40" stroke="#d8d8d8" stroke-width="0.6"/>
<text x="318.00" y="201.20" class="t">10<tspan dy="-1.8" font-size="3.01">0</tspan></text>
<text x="282.10" y="205.80" text-anchor="middle" class="t al" style="font-size:4.3px"><tspan font-style="italic" style="font-size:4.7px">f</tspan><tspan style="font-size:3.1px" dy="1.5">1</tspan><tspan dy="-1.5" dx="1.2"> selected feature rate</tspan></text>
<text transform="translate(232.92,166.35) rotate(-90)" text-anchor="middle" class="t al" style="font-size:4.3px"><tspan font-style="italic" style="font-size:4.7px">f</tspan><tspan style="font-size:3.1px" dy="1.5">2</tspan><tspan dy="-1.5" dx="0.9"> classification error rate</tspan></text>
<text transform="translate(275.60,220.75) scale(1.08,1)" text-anchor="middle" class="lt">(h)</text>
<polyline points="254.50,149.20 260.30,166.60 263.90,177.00 266.30,186.60 268.00,189.50 271.10,194.30" fill="none" stroke="#ff0000" stroke-width="0.4" stroke-opacity="0.5"/>
<polyline points="312.80,150.50 312.80,152.50 312.80,154.50" fill="none" stroke="#00ff00" stroke-width="0.4" stroke-opacity="0.5"/>
<polyline points="312.90,146.40 313.00,149.40" fill="none" stroke="#00ffff" stroke-width="0.4" stroke-opacity="0.5"/>
<circle cx="254.50" cy="149.20" r="1.15" fill="#ff0000"/>
<circle cx="260.30" cy="166.60" r="1.15" fill="#ff0000"/>
<circle cx="263.90" cy="177.00" r="1.15" fill="#ff0000"/>
<circle cx="266.30" cy="186.60" r="1.15" fill="#ff0000"/>
<circle cx="268.00" cy="189.50" r="1.15" fill="#ff0000"/>
<circle cx="271.10" cy="194.30" r="1.15" fill="#ff0000"/>
<rect x="310.25" y="153.55" width="1.90" height="1.90" fill="#0000ff"/>
<path d="M312.80 149.55L313.75 151.21L311.85 151.21Z" fill="#00ff00" stroke="#00ff00" stroke-width="0.75" stroke-linejoin="round"/>
<path d="M312.80 151.55L313.75 153.21L311.85 153.21Z" fill="#00ff00" stroke="#00ff00" stroke-width="0.75" stroke-linejoin="round"/>
<path d="M312.80 153.55L313.75 155.21L311.85 155.21Z" fill="#00ff00" stroke="#00ff00" stroke-width="0.75" stroke-linejoin="round"/>
<path d="M312.20 149.55L313.25 147.71L311.15 147.71Z" fill="#ff00ff" stroke="#ff00ff" stroke-width="0.60" stroke-linejoin="round"/>
<path d="M312.90 145.00L314.02 146.40L312.90 147.80L311.78 146.40Z" fill="#00ffff"/>
<path d="M313.00 148.00L314.12 149.40L313.00 150.80L311.88 149.40Z" fill="#00ffff"/>
<path d="M353.20 138.20H431.40V194.50" fill="none" stroke="#e4e4e4" stroke-width="0.8"/>
<path d="M353.20 138.20V194.50H431.40" fill="none" stroke="#d8d8d8" stroke-width="0.85"/>
<text x="392.30" y="137.40" text-anchor="middle" class="t tt">PIE10P</text>
<text x="351.90" y="140.05" text-anchor="end" class="t">0.7</text>
<line x1="353.20" y1="138.20" x2="354.30" y2="138.20" stroke="#d8d8d8" stroke-width="0.6"/>
<text x="351.90" y="148.09" text-anchor="end" class="t">0.6</text>
<line x1="353.20" y1="146.24" x2="354.30" y2="146.24" stroke="#d8d8d8" stroke-width="0.6"/>
<text x="351.90" y="156.14" text-anchor="end" class="t">0.5</text>
<line x1="353.20" y1="154.29" x2="354.30" y2="154.29" stroke="#d8d8d8" stroke-width="0.6"/>
<text x="351.90" y="164.18" text-anchor="end" class="t">0.4</text>
<line x1="353.20" y1="162.33" x2="354.30" y2="162.33" stroke="#d8d8d8" stroke-width="0.6"/>
<text x="351.90" y="172.22" text-anchor="end" class="t">0.3</text>
<line x1="353.20" y1="170.37" x2="354.30" y2="170.37" stroke="#d8d8d8" stroke-width="0.6"/>
<text x="351.90" y="180.26" text-anchor="end" class="t">0.2</text>
<line x1="353.20" y1="178.41" x2="354.30" y2="178.41" stroke="#d8d8d8" stroke-width="0.6"/>
<text x="351.90" y="188.31" text-anchor="end" class="t">0.1</text>
<line x1="353.20" y1="186.46" x2="354.30" y2="186.46" stroke="#d8d8d8" stroke-width="0.6"/>
<text x="351.90" y="196.35" text-anchor="end" class="t">0</text>
<line x1="353.20" y1="194.50" x2="354.30" y2="194.50" stroke="#d8d8d8" stroke-width="0.6"/>
<line x1="353.20" y1="194.50" x2="353.20" y2="193.40" stroke="#d8d8d8" stroke-width="0.6"/>
<text x="350.10" y="201.20" class="t">10<tspan dy="-1.8" font-size="3.01">-4</tspan></text>
<line x1="372.75" y1="194.50" x2="372.75" y2="193.40" stroke="#d8d8d8" stroke-width="0.6"/>
<text x="369.65" y="201.20" class="t">10<tspan dy="-1.8" font-size="3.01">-3</tspan></text>
<line x1="392.30" y1="194.50" x2="392.30" y2="193.40" stroke="#d8d8d8" stroke-width="0.6"/>
<text x="389.20" y="201.20" class="t">10<tspan dy="-1.8" font-size="3.01">-2</tspan></text>
<line x1="411.85" y1="194.50" x2="411.85" y2="193.40" stroke="#d8d8d8" stroke-width="0.6"/>
<text x="408.75" y="201.20" class="t">10<tspan dy="-1.8" font-size="3.01">-1</tspan></text>
<line x1="431.40" y1="194.50" x2="431.40" y2="193.40" stroke="#d8d8d8" stroke-width="0.6"/>
<text x="428.80" y="201.20" class="t">10<tspan dy="-1.8" font-size="3.01">0</tspan></text>
<text x="392.90" y="205.80" text-anchor="middle" class="t al" style="font-size:4.3px"><tspan font-style="italic" style="font-size:4.7px">f</tspan><tspan style="font-size:3.1px" dy="1.5">1</tspan><tspan dy="-1.5" dx="1.2"> selected feature rate</tspan></text>
<text transform="translate(343.72,166.35) rotate(-90)" text-anchor="middle" class="t al" style="font-size:4.3px"><tspan font-style="italic" style="font-size:4.7px">f</tspan><tspan style="font-size:3.1px" dy="1.5">2</tspan><tspan dy="-1.5" dx="0.9"> classification error rate</tspan></text>
<text transform="translate(386.60,220.75) scale(1.08,1)" text-anchor="middle" class="lt">(i)</text>
<polyline points="365.50,145.10 371.30,162.80 374.80,172.00 377.20,179.70 379.00,184.80 380.50,188.50 382.20,189.20 383.60,190.10 385.00,191.00 386.60,192.00 387.90,192.70 390.20,193.80" fill="none" stroke="#ff0000" stroke-width="0.4" stroke-opacity="0.5"/>
<polyline points="424.00,180.60 424.40,184.30" fill="none" stroke="#00ffff" stroke-width="0.4" stroke-opacity="0.5"/>
<circle cx="365.50" cy="145.10" r="1.15" fill="#ff0000"/>
<circle cx="371.30" cy="162.80" r="1.15" fill="#ff0000"/>
<circle cx="374.80" cy="172.00" r="1.15" fill="#ff0000"/>
<circle cx="377.20" cy="179.70" r="1.15" fill="#ff0000"/>
<circle cx="379.00" cy="184.80" r="1.15" fill="#ff0000"/>
<circle cx="380.50" cy="188.50" r="1.15" fill="#ff0000"/>
<circle cx="382.20" cy="189.20" r="1.15" fill="#ff0000"/>
<circle cx="383.60" cy="190.10" r="1.15" fill="#ff0000"/>
<circle cx="385.00" cy="191.00" r="1.15" fill="#ff0000"/>
<circle cx="386.60" cy="192.00" r="1.15" fill="#ff0000"/>
<circle cx="387.90" cy="192.70" r="1.15" fill="#ff0000"/>
<circle cx="390.20" cy="193.80" r="1.15" fill="#ff0000"/>
<rect x="420.55" y="181.65" width="1.90" height="1.90" fill="#0000ff"/>
<path d="M423.30 181.65L424.25 183.31L422.35 183.31Z" fill="#00ff00" stroke="#00ff00" stroke-width="0.75" stroke-linejoin="round"/>
<path d="M422.90 180.75L423.95 178.91L421.85 178.91Z" fill="#ff00ff" stroke="#ff00ff" stroke-width="0.60" stroke-linejoin="round"/>
<path d="M424.00 179.20L425.12 180.60L424.00 182.00L422.88 180.60Z" fill="#00ffff"/>
<path d="M424.40 182.90L425.52 184.30L424.40 185.70L423.28 184.30Z" fill="#00ffff"/>
<path d="M466.30 138.20H542.50V194.50" fill="none" stroke="#e4e4e4" stroke-width="0.8"/>
<path d="M466.30 138.20V194.50H542.50" fill="none" stroke="#d8d8d8" stroke-width="0.85"/>
<text x="504.40" y="137.40" text-anchor="middle" class="t tt">Leukemia1</text>
<text x="465.00" y="140.05" text-anchor="end" class="t">0.25</text>
<line x1="466.30" y1="138.20" x2="467.40" y2="138.20" stroke="#d8d8d8" stroke-width="0.6"/>
<text x="465.00" y="151.31" text-anchor="end" class="t">0.2</text>
<line x1="466.30" y1="149.46" x2="467.40" y2="149.46" stroke="#d8d8d8" stroke-width="0.6"/>
<text x="465.00" y="162.57" text-anchor="end" class="t">0.15</text>
<line x1="466.30" y1="160.72" x2="467.40" y2="160.72" stroke="#d8d8d8" stroke-width="0.6"/>
<text x="465.00" y="173.83" text-anchor="end" class="t">0.1</text>
<line x1="466.30" y1="171.98" x2="467.40" y2="171.98" stroke="#d8d8d8" stroke-width="0.6"/>
<text x="465.00" y="185.09" text-anchor="end" class="t">0.05</text>
<line x1="466.30" y1="183.24" x2="467.40" y2="183.24" stroke="#d8d8d8" stroke-width="0.6"/>
<text x="465.00" y="196.35" text-anchor="end" class="t">0</text>
<line x1="466.30" y1="194.50" x2="467.40" y2="194.50" stroke="#d8d8d8" stroke-width="0.6"/>
<line x1="466.30" y1="194.50" x2="466.30" y2="193.40" stroke="#d8d8d8" stroke-width="0.6"/>
<text x="463.20" y="201.20" class="t">10<tspan dy="-1.8" font-size="3.01">-4</tspan></text>
<line x1="485.35" y1="194.50" x2="485.35" y2="193.40" stroke="#d8d8d8" stroke-width="0.6"/>
<text x="482.25" y="201.20" class="t">10<tspan dy="-1.8" font-size="3.01">-3</tspan></text>
<line x1="504.40" y1="194.50" x2="504.40" y2="193.40" stroke="#d8d8d8" stroke-width="0.6"/>
<text x="501.30" y="201.20" class="t">10<tspan dy="-1.8" font-size="3.01">-2</tspan></text>
<line x1="523.45" y1="194.50" x2="523.45" y2="193.40" stroke="#d8d8d8" stroke-width="0.6"/>
<text x="520.35" y="201.20" class="t">10<tspan dy="-1.8" font-size="3.01">-1</tspan></text>
<line x1="542.50" y1="194.50" x2="542.50" y2="193.40" stroke="#d8d8d8" stroke-width="0.6"/>
<text x="539.90" y="201.20" class="t">10<tspan dy="-1.8" font-size="3.01">0</tspan></text>
<text x="505.00" y="205.80" text-anchor="middle" class="t al" style="font-size:4.3px"><tspan font-style="italic" style="font-size:4.7px">f</tspan><tspan style="font-size:3.1px" dy="1.5">1</tspan><tspan dy="-1.5" dx="1.2"> selected feature rate</tspan></text>
<text transform="translate(454.68,166.35) rotate(-90)" text-anchor="middle" class="t al" style="font-size:4.3px"><tspan font-style="italic" style="font-size:4.7px">f</tspan><tspan style="font-size:3.1px" dy="1.5">2</tspan><tspan dy="-1.5" dx="0.9"> classification error rate</tspan></text>
<text transform="translate(497.60,220.75) scale(1.08,1)" text-anchor="middle" class="lt">(j)</text>
<polyline points="471.40,149.20 476.90,185.40 480.50,194.30" fill="none" stroke="#ff0000" stroke-width="0.4" stroke-opacity="0.5"/>
<polyline points="535.70,145.00 535.70,149.50 536.00,153.80 536.00,158.50" fill="none" stroke="#00ff00" stroke-width="0.4" stroke-opacity="0.5"/>
<circle cx="471.40" cy="149.20" r="1.15" fill="#ff0000"/>
<circle cx="476.90" cy="185.40" r="1.15" fill="#ff0000"/>
<circle cx="480.50" cy="194.30" r="1.15" fill="#ff0000"/>
<rect x="533.65" y="152.85" width="1.90" height="1.90" fill="#0000ff"/>
<path d="M535.70 144.05L536.65 145.71L534.75 145.71Z" fill="#00ff00" stroke="#00ff00" stroke-width="0.75" stroke-linejoin="round"/>
<path d="M535.70 148.55L536.65 150.21L534.75 150.21Z" fill="#00ff00" stroke="#00ff00" stroke-width="0.75" stroke-linejoin="round"/>
<path d="M536.00 152.85L536.95 154.51L535.05 154.51Z" fill="#00ff00" stroke="#00ff00" stroke-width="0.75" stroke-linejoin="round"/>
<path d="M536.00 157.55L536.95 159.21L535.05 159.21Z" fill="#00ff00" stroke="#00ff00" stroke-width="0.75" stroke-linejoin="round"/>
<path d="M20.40 240.70H98.70V297.40" fill="none" stroke="#e4e4e4" stroke-width="0.8"/>
<path d="M20.40 240.70V297.40H98.70" fill="none" stroke="#d8d8d8" stroke-width="0.85"/>
<text x="59.55" y="239.90" text-anchor="middle" class="t tt">Tumor9</text>
<text x="19.10" y="242.55" text-anchor="end" class="t">0.7</text>
<line x1="20.40" y1="240.70" x2="21.50" y2="240.70" stroke="#d8d8d8" stroke-width="0.6"/>
<text x="19.10" y="253.89" text-anchor="end" class="t">0.6</text>
<line x1="20.40" y1="252.04" x2="21.50" y2="252.04" stroke="#d8d8d8" stroke-width="0.6"/>
<text x="19.10" y="265.23" text-anchor="end" class="t">0.5</text>
<line x1="20.40" y1="263.38" x2="21.50" y2="263.38" stroke="#d8d8d8" stroke-width="0.6"/>
<text x="19.10" y="276.57" text-anchor="end" class="t">0.4</text>
<line x1="20.40" y1="274.72" x2="21.50" y2="274.72" stroke="#d8d8d8" stroke-width="0.6"/>
<text x="19.10" y="287.91" text-anchor="end" class="t">0.3</text>
<line x1="20.40" y1="286.06" x2="21.50" y2="286.06" stroke="#d8d8d8" stroke-width="0.6"/>
<text x="19.10" y="299.25" text-anchor="end" class="t">0.2</text>
<line x1="20.40" y1="297.40" x2="21.50" y2="297.40" stroke="#d8d8d8" stroke-width="0.6"/>
<line x1="20.40" y1="297.40" x2="20.40" y2="296.30" stroke="#d8d8d8" stroke-width="0.6"/>
<text x="17.30" y="304.10" class="t">10<tspan dy="-1.8" font-size="3.01">-4</tspan></text>
<line x1="39.98" y1="297.40" x2="39.98" y2="296.30" stroke="#d8d8d8" stroke-width="0.6"/>
<text x="36.87" y="304.10" class="t">10<tspan dy="-1.8" font-size="3.01">-3</tspan></text>
<line x1="59.55" y1="297.40" x2="59.55" y2="296.30" stroke="#d8d8d8" stroke-width="0.6"/>
<text x="56.45" y="304.10" class="t">10<tspan dy="-1.8" font-size="3.01">-2</tspan></text>
<line x1="79.12" y1="297.40" x2="79.12" y2="296.30" stroke="#d8d8d8" stroke-width="0.6"/>
<text x="76.02" y="304.10" class="t">10<tspan dy="-1.8" font-size="3.01">-1</tspan></text>
<line x1="98.70" y1="297.40" x2="98.70" y2="296.30" stroke="#d8d8d8" stroke-width="0.6"/>
<text x="96.10" y="304.10" class="t">10<tspan dy="-1.8" font-size="3.01">0</tspan></text>
<text x="60.15" y="308.70" text-anchor="middle" class="t al" style="font-size:4.3px"><tspan font-style="italic" style="font-size:4.7px">f</tspan><tspan style="font-size:3.1px" dy="1.5">1</tspan><tspan dy="-1.5" dx="1.2"> selected feature rate</tspan></text>
<text transform="translate(10.92,269.05) rotate(-90)" text-anchor="middle" class="t al" style="font-size:4.3px"><tspan font-style="italic" style="font-size:4.7px">f</tspan><tspan style="font-size:3.1px" dy="1.5">2</tspan><tspan dy="-1.5" dx="0.9"> classification error rate</tspan></text>
<text transform="translate(53.60,323.95) scale(1.08,1)" text-anchor="middle" class="lt">(k)</text>
<polyline points="24.80,243.10 30.90,257.60 34.50,263.60 36.90,269.20 38.60,277.60 40.30,282.20 41.70,285.30 43.90,288.20 45.80,290.10" fill="none" stroke="#ff0000" stroke-width="0.4" stroke-opacity="0.5"/>
<circle cx="24.80" cy="243.10" r="1.15" fill="#ff0000"/>
<circle cx="30.90" cy="257.60" r="1.15" fill="#ff0000"/>
<circle cx="34.50" cy="263.60" r="1.15" fill="#ff0000"/>
<circle cx="36.90" cy="269.20" r="1.15" fill="#ff0000"/>
<circle cx="38.60" cy="277.60" r="1.15" fill="#ff0000"/>
<circle cx="40.30" cy="282.20" r="1.15" fill="#ff0000"/>
<circle cx="41.70" cy="285.30" r="1.15" fill="#ff0000"/>
<circle cx="43.90" cy="288.20" r="1.15" fill="#ff0000"/>
<circle cx="45.80" cy="290.10" r="1.15" fill="#ff0000"/>
<rect x="89.85" y="253.05" width="1.90" height="1.90" fill="#0000ff"/>
<path d="M91.40 254.85L92.35 256.51L90.45 256.51Z" fill="#00ff00" stroke="#00ff00" stroke-width="0.75" stroke-linejoin="round"/>
<path d="M91.40 256.00L92.52 257.40L91.40 258.80L90.28 257.40Z" fill="#00ffff"/>
<path d="M133.20 240.70H209.60V297.40" fill="none" stroke="#e4e4e4" stroke-width="0.8"/>
<path d="M133.20 240.70V297.40H209.60" fill="none" stroke="#d8d8d8" stroke-width="0.85"/>
<text x="171.40" y="239.90" text-anchor="middle" class="t tt">Brain1</text>
<text x="131.90" y="242.55" text-anchor="end" class="t">0.24</text>
<line x1="133.20" y1="240.70" x2="134.30" y2="240.70" stroke="#d8d8d8" stroke-width="0.6"/>
<text x="131.90" y="250.65" text-anchor="end" class="t">0.22</text>
<line x1="133.20" y1="248.80" x2="134.30" y2="248.80" stroke="#d8d8d8" stroke-width="0.6"/>
<text x="131.90" y="258.75" text-anchor="end" class="t">0.2</text>
<line x1="133.20" y1="256.90" x2="134.30" y2="256.90" stroke="#d8d8d8" stroke-width="0.6"/>
<text x="131.90" y="266.85" text-anchor="end" class="t">0.18</text>
<line x1="133.20" y1="265.00" x2="134.30" y2="265.00" stroke="#d8d8d8" stroke-width="0.6"/>
<text x="131.90" y="274.95" text-anchor="end" class="t">0.16</text>
<line x1="133.20" y1="273.10" x2="134.30" y2="273.10" stroke="#d8d8d8" stroke-width="0.6"/>
<text x="131.90" y="283.05" text-anchor="end" class="t">0.14</text>
<line x1="133.20" y1="281.20" x2="134.30" y2="281.20" stroke="#d8d8d8" stroke-width="0.6"/>
<text x="131.90" y="291.15" text-anchor="end" class="t">0.12</text>
<line x1="133.20" y1="289.30" x2="134.30" y2="289.30" stroke="#d8d8d8" stroke-width="0.6"/>
<text x="131.90" y="299.25" text-anchor="end" class="t">0.1</text>
<line x1="133.20" y1="297.40" x2="134.30" y2="297.40" stroke="#d8d8d8" stroke-width="0.6"/>
<line x1="133.20" y1="297.40" x2="133.20" y2="296.30" stroke="#d8d8d8" stroke-width="0.6"/>
<text x="130.10" y="304.10" class="t">10<tspan dy="-1.8" font-size="3.01">-4</tspan></text>
<line x1="152.30" y1="297.40" x2="152.30" y2="296.30" stroke="#d8d8d8" stroke-width="0.6"/>
<text x="149.20" y="304.10" class="t">10<tspan dy="-1.8" font-size="3.01">-3</tspan></text>
<line x1="171.40" y1="297.40" x2="171.40" y2="296.30" stroke="#d8d8d8" stroke-width="0.6"/>
<text x="168.30" y="304.10" class="t">10<tspan dy="-1.8" font-size="3.01">-2</tspan></text>
<line x1="190.50" y1="297.40" x2="190.50" y2="296.30" stroke="#d8d8d8" stroke-width="0.6"/>
<text x="187.40" y="304.10" class="t">10<tspan dy="-1.8" font-size="3.01">-1</tspan></text>
<line x1="209.60" y1="297.40" x2="209.60" y2="296.30" stroke="#d8d8d8" stroke-width="0.6"/>
<text x="207.00" y="304.10" class="t">10<tspan dy="-1.8" font-size="3.01">0</tspan></text>
<text x="172.00" y="308.70" text-anchor="middle" class="t al" style="font-size:4.3px"><tspan font-style="italic" style="font-size:4.7px">f</tspan><tspan style="font-size:3.1px" dy="1.5">1</tspan><tspan dy="-1.5" dx="1.2"> selected feature rate</tspan></text>
<text transform="translate(121.57,269.05) rotate(-90)" text-anchor="middle" class="t al" style="font-size:4.3px"><tspan font-style="italic" style="font-size:4.7px">f</tspan><tspan style="font-size:3.1px" dy="1.5">2</tspan><tspan dy="-1.5" dx="0.9"> classification error rate</tspan></text>
<text transform="translate(164.60,323.95) scale(1.08,1)" text-anchor="middle" class="lt">(l)</text>
<polyline points="137.70,246.70 143.30,283.60 146.70,284.80 148.60,290.60 151.00,290.60 152.70,297.40" fill="none" stroke="#ff0000" stroke-width="0.4" stroke-opacity="0.5"/>
<circle cx="137.70" cy="246.70" r="1.15" fill="#ff0000"/>
<circle cx="143.30" cy="283.60" r="1.15" fill="#ff0000"/>
<circle cx="146.70" cy="284.80" r="1.15" fill="#ff0000"/>
<circle cx="148.60" cy="290.60" r="1.15" fill="#ff0000"/>
<circle cx="151.00" cy="290.60" r="1.15" fill="#ff0000"/>
<circle cx="152.70" cy="297.40" r="1.15" fill="#ff0000"/>
<rect x="200.75" y="245.75" width="1.90" height="1.90" fill="#0000ff"/>
<path d="M202.50 248.55L203.45 250.21L201.55 250.21Z" fill="#00ff00" stroke="#00ff00" stroke-width="0.75" stroke-linejoin="round"/>
<path d="M202.80 256.25L203.85 254.41L201.75 254.41Z" fill="#ff00ff" stroke="#ff00ff" stroke-width="0.60" stroke-linejoin="round"/>
<path d="M203.40 247.10L204.52 248.50L203.40 249.90L202.28 248.50Z" fill="#00ffff"/>
<path d="M244.10 240.70H320.60V297.40" fill="none" stroke="#e4e4e4" stroke-width="0.8"/>
<path d="M244.10 240.70V297.40H320.60" fill="none" stroke="#d8d8d8" stroke-width="0.85"/>
<text x="282.35" y="239.90" text-anchor="middle" class="t tt">Leukemia2</text>
<text x="242.80" y="242.55" text-anchor="end" class="t">0.14</text>
<line x1="244.10" y1="240.70" x2="245.20" y2="240.70" stroke="#d8d8d8" stroke-width="0.6"/>
<text x="242.80" y="250.65" text-anchor="end" class="t">0.12</text>
<line x1="244.10" y1="248.80" x2="245.20" y2="248.80" stroke="#d8d8d8" stroke-width="0.6"/>
<text x="242.80" y="258.75" text-anchor="end" class="t">0.1</text>
<line x1="244.10" y1="256.90" x2="245.20" y2="256.90" stroke="#d8d8d8" stroke-width="0.6"/>
<text x="242.80" y="266.85" text-anchor="end" class="t">0.08</text>
<line x1="244.10" y1="265.00" x2="245.20" y2="265.00" stroke="#d8d8d8" stroke-width="0.6"/>
<text x="242.80" y="274.95" text-anchor="end" class="t">0.06</text>
<line x1="244.10" y1="273.10" x2="245.20" y2="273.10" stroke="#d8d8d8" stroke-width="0.6"/>
<text x="242.80" y="283.05" text-anchor="end" class="t">0.04</text>
<line x1="244.10" y1="281.20" x2="245.20" y2="281.20" stroke="#d8d8d8" stroke-width="0.6"/>
<text x="242.80" y="291.15" text-anchor="end" class="t">0.02</text>
<line x1="244.10" y1="289.30" x2="245.20" y2="289.30" stroke="#d8d8d8" stroke-width="0.6"/>
<text x="242.80" y="299.25" text-anchor="end" class="t">0</text>
<line x1="244.10" y1="297.40" x2="245.20" y2="297.40" stroke="#d8d8d8" stroke-width="0.6"/>
<line x1="244.10" y1="297.40" x2="244.10" y2="296.30" stroke="#d8d8d8" stroke-width="0.6"/>
<text x="241.00" y="304.10" class="t">10<tspan dy="-1.8" font-size="3.01">-4</tspan></text>
<line x1="263.23" y1="297.40" x2="263.23" y2="296.30" stroke="#d8d8d8" stroke-width="0.6"/>
<text x="260.12" y="304.10" class="t">10<tspan dy="-1.8" font-size="3.01">-3</tspan></text>
<line x1="282.35" y1="297.40" x2="282.35" y2="296.30" stroke="#d8d8d8" stroke-width="0.6"/>
<text x="279.25" y="304.10" class="t">10<tspan dy="-1.8" font-size="3.01">-2</tspan></text>
<line x1="301.48" y1="297.40" x2="301.48" y2="296.30" stroke="#d8d8d8" stroke-width="0.6"/>
<text x="298.37" y="304.10" class="t">10<tspan dy="-1.8" font-size="3.01">-1</tspan></text>
<line x1="320.60" y1="297.40" x2="320.60" y2="296.30" stroke="#d8d8d8" stroke-width="0.6"/>
<text x="318.00" y="304.10" class="t">10<tspan dy="-1.8" font-size="3.01">0</tspan></text>
<text x="282.95" y="308.70" text-anchor="middle" class="t al" style="font-size:4.3px"><tspan font-style="italic" style="font-size:4.7px">f</tspan><tspan style="font-size:3.1px" dy="1.5">1</tspan><tspan dy="-1.5" dx="1.2"> selected feature rate</tspan></text>
<text transform="translate(232.47,269.05) rotate(-90)" text-anchor="middle" class="t al" style="font-size:4.3px"><tspan font-style="italic" style="font-size:4.7px">f</tspan><tspan style="font-size:3.1px" dy="1.5">2</tspan><tspan dy="-1.5" dx="0.9"> classification error rate</tspan></text>
<text transform="translate(275.60,323.95) scale(1.08,1)" text-anchor="middle" class="lt">(m)</text>
<polyline points="247.00,265.30 252.80,289.40 258.60,297.40" fill="none" stroke="#ff0000" stroke-width="0.4" stroke-opacity="0.5"/>
<polyline points="314.00,248.80 314.00,256.90" fill="none" stroke="#00ff00" stroke-width="0.4" stroke-opacity="0.5"/>
<circle cx="247.00" cy="265.30" r="1.15" fill="#ff0000"/>
<circle cx="252.80" cy="289.40" r="1.15" fill="#ff0000"/>
<circle cx="258.60" cy="297.40" r="1.15" fill="#ff0000"/>
<rect x="311.65" y="247.85" width="1.90" height="1.90" fill="#0000ff"/>
<path d="M314.00 247.85L314.95 249.51L313.05 249.51Z" fill="#00ff00" stroke="#00ff00" stroke-width="0.75" stroke-linejoin="round"/>
<path d="M314.00 255.95L314.95 257.61L313.05 257.61Z" fill="#00ff00" stroke="#00ff00" stroke-width="0.75" stroke-linejoin="round"/>
<path d="M314.00 239.80L315.12 241.20L314.00 242.60L312.88 241.20Z" fill="#00ffff"/>
<path d="M354.10 240.70H431.40V297.40" fill="none" stroke="#e4e4e4" stroke-width="0.8"/>
<path d="M354.10 240.70V297.40H431.40" fill="none" stroke="#d8d8d8" stroke-width="0.85"/>
<text x="392.75" y="239.90" text-anchor="middle" class="t tt">CNS</text>
<text x="352.80" y="242.55" text-anchor="end" class="t">0.4</text>
<line x1="354.10" y1="240.70" x2="355.20" y2="240.70" stroke="#d8d8d8" stroke-width="0.6"/>
<text x="352.80" y="256.73" text-anchor="end" class="t">0.3</text>
<line x1="354.10" y1="254.88" x2="355.20" y2="254.88" stroke="#d8d8d8" stroke-width="0.6"/>
<text x="352.80" y="270.90" text-anchor="end" class="t">0.2</text>
<line x1="354.10" y1="269.05" x2="355.20" y2="269.05" stroke="#d8d8d8" stroke-width="0.6"/>
<text x="352.80" y="285.07" text-anchor="end" class="t">0.1</text>
<line x1="354.10" y1="283.22" x2="355.20" y2="283.22" stroke="#d8d8d8" stroke-width="0.6"/>
<text x="352.80" y="299.25" text-anchor="end" class="t">0</text>
<line x1="354.10" y1="297.40" x2="355.20" y2="297.40" stroke="#d8d8d8" stroke-width="0.6"/>
<line x1="354.10" y1="297.40" x2="354.10" y2="296.30" stroke="#d8d8d8" stroke-width="0.6"/>
<text x="351.00" y="304.10" class="t">10<tspan dy="-1.8" font-size="3.01">-4</tspan></text>
<line x1="373.43" y1="297.40" x2="373.43" y2="296.30" stroke="#d8d8d8" stroke-width="0.6"/>
<text x="370.32" y="304.10" class="t">10<tspan dy="-1.8" font-size="3.01">-3</tspan></text>
<line x1="392.75" y1="297.40" x2="392.75" y2="296.30" stroke="#d8d8d8" stroke-width="0.6"/>
<text x="389.65" y="304.10" class="t">10<tspan dy="-1.8" font-size="3.01">-2</tspan></text>
<line x1="412.07" y1="297.40" x2="412.07" y2="296.30" stroke="#d8d8d8" stroke-width="0.6"/>
<text x="408.97" y="304.10" class="t">10<tspan dy="-1.8" font-size="3.01">-1</tspan></text>
<line x1="431.40" y1="297.40" x2="431.40" y2="296.30" stroke="#d8d8d8" stroke-width="0.6"/>
<text x="428.80" y="304.10" class="t">10<tspan dy="-1.8" font-size="3.01">0</tspan></text>
<text x="393.35" y="308.70" text-anchor="middle" class="t al" style="font-size:4.3px"><tspan font-style="italic" style="font-size:4.7px">f</tspan><tspan style="font-size:3.1px" dy="1.5">1</tspan><tspan dy="-1.5" dx="1.2"> selected feature rate</tspan></text>
<text transform="translate(344.62,269.05) rotate(-90)" text-anchor="middle" class="t al" style="font-size:4.3px"><tspan font-style="italic" style="font-size:4.7px">f</tspan><tspan style="font-size:3.1px" dy="1.5">2</tspan><tspan dy="-1.5" dx="0.9"> classification error rate</tspan></text>
<text transform="translate(386.60,323.95) scale(1.08,1)" text-anchor="middle" class="lt">(n)</text>
<polyline points="356.10,260.00 362.10,279.80 365.50,283.60 367.90,287.00 369.80,290.10 371.50,293.80" fill="none" stroke="#ff0000" stroke-width="0.4" stroke-opacity="0.5"/>
<polyline points="424.70,246.70 424.70,250.10 425.50,253.00" fill="none" stroke="#00ff00" stroke-width="0.4" stroke-opacity="0.5"/>
<circle cx="356.10" cy="260.00" r="1.15" fill="#ff0000"/>
<circle cx="362.10" cy="279.80" r="1.15" fill="#ff0000"/>
<circle cx="365.50" cy="283.60" r="1.15" fill="#ff0000"/>
<circle cx="367.90" cy="287.00" r="1.15" fill="#ff0000"/>
<circle cx="369.80" cy="290.10" r="1.15" fill="#ff0000"/>
<circle cx="371.50" cy="293.80" r="1.15" fill="#ff0000"/>
<rect x="422.65" y="249.05" width="1.90" height="1.90" fill="#0000ff"/>
<path d="M424.70 250.80L425.82 252.20L424.70 253.60L423.58 252.20Z" fill="#00ffff"/>
<path d="M424.70 245.75L425.65 247.41L423.75 247.41Z" fill="#00ff00" stroke="#00ff00" stroke-width="0.75" stroke-linejoin="round"/>
<path d="M424.70 249.15L425.65 250.81L423.75 250.81Z" fill="#00ff00" stroke="#00ff00" stroke-width="0.75" stroke-linejoin="round"/>
<path d="M425.50 252.05L426.45 253.71L424.55 253.71Z" fill="#00ff00" stroke="#00ff00" stroke-width="0.75" stroke-linejoin="round"/>
<path d="M466.30 240.70H542.50V297.40" fill="none" stroke="#e4e4e4" stroke-width="0.8"/>
<path d="M466.30 240.70V297.40H542.50" fill="none" stroke="#d8d8d8" stroke-width="0.85"/>
<text x="504.40" y="239.90" text-anchor="middle" class="t tt">ALLAML</text>
<text x="465.00" y="246.75" text-anchor="end" class="t">0.15</text>
<line x1="466.30" y1="244.90" x2="467.40" y2="244.90" stroke="#d8d8d8" stroke-width="0.6"/>
<text x="465.00" y="264.25" text-anchor="end" class="t">0.1</text>
<line x1="466.30" y1="262.40" x2="467.40" y2="262.40" stroke="#d8d8d8" stroke-width="0.6"/>
<text x="465.00" y="281.75" text-anchor="end" class="t">0.05</text>
<line x1="466.30" y1="279.90" x2="467.40" y2="279.90" stroke="#d8d8d8" stroke-width="0.6"/>
<text x="465.00" y="299.25" text-anchor="end" class="t">0</text>
<line x1="466.30" y1="297.40" x2="467.40" y2="297.40" stroke="#d8d8d8" stroke-width="0.6"/>
<line x1="466.30" y1="297.40" x2="466.30" y2="296.30" stroke="#d8d8d8" stroke-width="0.6"/>
<text x="463.20" y="304.10" class="t">10<tspan dy="-1.8" font-size="3.01">-4</tspan></text>
<line x1="485.35" y1="297.40" x2="485.35" y2="296.30" stroke="#d8d8d8" stroke-width="0.6"/>
<text x="482.25" y="304.10" class="t">10<tspan dy="-1.8" font-size="3.01">-3</tspan></text>
<line x1="504.40" y1="297.40" x2="504.40" y2="296.30" stroke="#d8d8d8" stroke-width="0.6"/>
<text x="501.30" y="304.10" class="t">10<tspan dy="-1.8" font-size="3.01">-2</tspan></text>
<line x1="523.45" y1="297.40" x2="523.45" y2="296.30" stroke="#d8d8d8" stroke-width="0.6"/>
<text x="520.35" y="304.10" class="t">10<tspan dy="-1.8" font-size="3.01">-1</tspan></text>
<line x1="542.50" y1="297.40" x2="542.50" y2="296.30" stroke="#d8d8d8" stroke-width="0.6"/>
<text x="539.90" y="304.10" class="t">10<tspan dy="-1.8" font-size="3.01">0</tspan></text>
<text x="505.00" y="308.70" text-anchor="middle" class="t al" style="font-size:4.3px"><tspan font-style="italic" style="font-size:4.7px">f</tspan><tspan style="font-size:3.1px" dy="1.5">1</tspan><tspan dy="-1.5" dx="1.2"> selected feature rate</tspan></text>
<text transform="translate(454.68,269.05) rotate(-90)" text-anchor="middle" class="t al" style="font-size:4.3px"><tspan font-style="italic" style="font-size:4.7px">f</tspan><tspan style="font-size:3.1px" dy="1.5">2</tspan><tspan dy="-1.5" dx="0.9"> classification error rate</tspan></text>
<text transform="translate(497.60,323.95) scale(1.08,1)" text-anchor="middle" class="lt">(o)</text>
<polyline points="469.00,261.90 475.00,283.40 478.10,290.10 483.90,297.40" fill="none" stroke="#ff0000" stroke-width="0.4" stroke-opacity="0.5"/>
<polyline points="535.70,240.90 535.70,247.90 535.70,255.20" fill="none" stroke="#ff00ff" stroke-width="0.4" stroke-opacity="0.5"/>
<circle cx="469.00" cy="261.90" r="1.15" fill="#ff0000"/>
<circle cx="475.00" cy="283.40" r="1.15" fill="#ff0000"/>
<circle cx="478.10" cy="290.10" r="1.15" fill="#ff0000"/>
<circle cx="483.90" cy="297.40" r="1.15" fill="#ff0000"/>
<path d="M535.70 241.95L536.75 240.11L534.65 240.11Z" fill="#ff00ff" stroke="#ff00ff" stroke-width="0.60" stroke-linejoin="round"/>
<path d="M535.70 248.95L536.75 247.11L534.65 247.11Z" fill="#ff00ff" stroke="#ff00ff" stroke-width="0.60" stroke-linejoin="round"/>
<path d="M535.70 256.25L536.75 254.41L534.65 254.41Z" fill="#ff00ff" stroke="#ff00ff" stroke-width="0.60" stroke-linejoin="round"/>
<rect x="534.55" y="246.95" width="1.90" height="1.90" fill="#0000ff"/>
<path d="M535.70 254.25L536.65 255.91L534.75 255.91Z" fill="#00ff00" stroke="#00ff00" stroke-width="0.75" stroke-linejoin="round"/>
<path d="M20.50 343.50H98.70V399.60" fill="none" stroke="#e4e4e4" stroke-width="0.8"/>
<path d="M20.50 343.50V399.60H98.70" fill="none" stroke="#d8d8d8" stroke-width="0.85"/>
<text x="59.60" y="342.70" text-anchor="middle" class="t tt">Nci9</text>
<text x="19.20" y="345.35" text-anchor="end" class="t">0.9</text>
<line x1="20.50" y1="343.50" x2="21.60" y2="343.50" stroke="#d8d8d8" stroke-width="0.6"/>
<text x="19.20" y="353.36" text-anchor="end" class="t">0.8</text>
<line x1="20.50" y1="351.51" x2="21.60" y2="351.51" stroke="#d8d8d8" stroke-width="0.6"/>
<text x="19.20" y="361.38" text-anchor="end" class="t">0.7</text>
<line x1="20.50" y1="359.53" x2="21.60" y2="359.53" stroke="#d8d8d8" stroke-width="0.6"/>
<text x="19.20" y="369.39" text-anchor="end" class="t">0.6</text>
<line x1="20.50" y1="367.54" x2="21.60" y2="367.54" stroke="#d8d8d8" stroke-width="0.6"/>
<text x="19.20" y="377.41" text-anchor="end" class="t">0.5</text>
<line x1="20.50" y1="375.56" x2="21.60" y2="375.56" stroke="#d8d8d8" stroke-width="0.6"/>
<text x="19.20" y="385.42" text-anchor="end" class="t">0.4</text>
<line x1="20.50" y1="383.57" x2="21.60" y2="383.57" stroke="#d8d8d8" stroke-width="0.6"/>
<text x="19.20" y="393.44" text-anchor="end" class="t">0.3</text>
<line x1="20.50" y1="391.59" x2="21.60" y2="391.59" stroke="#d8d8d8" stroke-width="0.6"/>
<text x="19.20" y="401.45" text-anchor="end" class="t">0.2</text>
<line x1="20.50" y1="399.60" x2="21.60" y2="399.60" stroke="#d8d8d8" stroke-width="0.6"/>
<line x1="20.50" y1="399.60" x2="20.50" y2="398.50" stroke="#d8d8d8" stroke-width="0.6"/>
<text x="17.40" y="406.30" class="t">10<tspan dy="-1.8" font-size="3.01">-4</tspan></text>
<line x1="40.05" y1="399.60" x2="40.05" y2="398.50" stroke="#d8d8d8" stroke-width="0.6"/>
<text x="36.95" y="406.30" class="t">10<tspan dy="-1.8" font-size="3.01">-3</tspan></text>
<line x1="59.60" y1="399.60" x2="59.60" y2="398.50" stroke="#d8d8d8" stroke-width="0.6"/>
<text x="56.50" y="406.30" class="t">10<tspan dy="-1.8" font-size="3.01">-2</tspan></text>
<line x1="79.15" y1="399.60" x2="79.15" y2="398.50" stroke="#d8d8d8" stroke-width="0.6"/>
<text x="76.05" y="406.30" class="t">10<tspan dy="-1.8" font-size="3.01">-1</tspan></text>
<line x1="98.70" y1="399.60" x2="98.70" y2="398.50" stroke="#d8d8d8" stroke-width="0.6"/>
<text x="96.10" y="406.30" class="t">10<tspan dy="-1.8" font-size="3.01">0</tspan></text>
<text x="60.20" y="410.90" text-anchor="middle" class="t al" style="font-size:4.3px"><tspan font-style="italic" style="font-size:4.7px">f</tspan><tspan style="font-size:3.1px" dy="1.5">1</tspan><tspan dy="-1.5" dx="1.2"> selected feature rate</tspan></text>
<text transform="translate(11.02,371.55) rotate(-90)" text-anchor="middle" class="t al" style="font-size:4.3px"><tspan font-style="italic" style="font-size:4.7px">f</tspan><tspan style="font-size:3.1px" dy="1.5">2</tspan><tspan dy="-1.5" dx="0.9"> classification error rate</tspan></text>
<text transform="translate(53.60,426.65) scale(1.08,1)" text-anchor="middle" class="lt">(p)</text>
<polyline points="20.50,361.00 26.50,372.60 29.70,379.90 32.60,386.40 35.70,386.40 37.40,388.30 38.60,390.20 39.80,392.00 41.00,393.00 42.20,394.30" fill="none" stroke="#ff0000" stroke-width="0.4" stroke-opacity="0.5"/>
<polyline points="91.40,346.80 92.00,346.80" fill="none" stroke="#00ff00" stroke-width="0.4" stroke-opacity="0.5"/>
<circle cx="20.50" cy="361.00" r="1.15" fill="#ff0000"/>
<circle cx="26.50" cy="372.60" r="1.15" fill="#ff0000"/>
<circle cx="29.70" cy="379.90" r="1.15" fill="#ff0000"/>
<circle cx="32.60" cy="386.40" r="1.15" fill="#ff0000"/>
<circle cx="35.70" cy="386.40" r="1.15" fill="#ff0000"/>
<circle cx="37.40" cy="388.30" r="1.15" fill="#ff0000"/>
<circle cx="38.60" cy="390.20" r="1.15" fill="#ff0000"/>
<circle cx="39.80" cy="392.00" r="1.15" fill="#ff0000"/>
<circle cx="41.00" cy="393.00" r="1.15" fill="#ff0000"/>
<circle cx="42.20" cy="394.30" r="1.15" fill="#ff0000"/>
<rect x="89.65" y="345.85" width="1.90" height="1.90" fill="#0000ff"/>
<path d="M91.40 345.85L92.35 347.51L90.45 347.51Z" fill="#00ff00" stroke="#00ff00" stroke-width="0.75" stroke-linejoin="round"/>
<path d="M92.00 345.85L92.95 347.51L91.05 347.51Z" fill="#00ff00" stroke="#00ff00" stroke-width="0.75" stroke-linejoin="round"/>
<path d="M133.50 343.50H209.60V399.60" fill="none" stroke="#e4e4e4" stroke-width="0.8"/>
<path d="M133.50 343.50V399.60H209.60" fill="none" stroke="#d8d8d8" stroke-width="0.85"/>
<text x="171.55" y="342.70" text-anchor="middle" class="t tt">Pixraw10P</text>
<text x="132.20" y="345.35" text-anchor="end" class="t">0.2</text>
<line x1="133.50" y1="343.50" x2="134.60" y2="343.50" stroke="#d8d8d8" stroke-width="0.6"/>
<text x="132.20" y="359.38" text-anchor="end" class="t">0.15</text>
<line x1="133.50" y1="357.52" x2="134.60" y2="357.52" stroke="#d8d8d8" stroke-width="0.6"/>
<text x="132.20" y="373.40" text-anchor="end" class="t">0.1</text>
<line x1="133.50" y1="371.55" x2="134.60" y2="371.55" stroke="#d8d8d8" stroke-width="0.6"/>
<text x="132.20" y="387.43" text-anchor="end" class="t">0.05</text>
<line x1="133.50" y1="385.58" x2="134.60" y2="385.58" stroke="#d8d8d8" stroke-width="0.6"/>
<text x="132.20" y="401.45" text-anchor="end" class="t">0</text>
<line x1="133.50" y1="399.60" x2="134.60" y2="399.60" stroke="#d8d8d8" stroke-width="0.6"/>
<line x1="133.50" y1="399.60" x2="133.50" y2="398.50" stroke="#d8d8d8" stroke-width="0.6"/>
<text x="130.40" y="406.30" class="t">10<tspan dy="-1.8" font-size="3.01">-4</tspan></text>
<line x1="152.53" y1="399.60" x2="152.53" y2="398.50" stroke="#d8d8d8" stroke-width="0.6"/>
<text x="149.42" y="406.30" class="t">10<tspan dy="-1.8" font-size="3.01">-3</tspan></text>
<line x1="171.55" y1="399.60" x2="171.55" y2="398.50" stroke="#d8d8d8" stroke-width="0.6"/>
<text x="168.45" y="406.30" class="t">10<tspan dy="-1.8" font-size="3.01">-2</tspan></text>
<line x1="190.57" y1="399.60" x2="190.57" y2="398.50" stroke="#d8d8d8" stroke-width="0.6"/>
<text x="187.47" y="406.30" class="t">10<tspan dy="-1.8" font-size="3.01">-1</tspan></text>
<line x1="209.60" y1="399.60" x2="209.60" y2="398.50" stroke="#d8d8d8" stroke-width="0.6"/>
<text x="207.00" y="406.30" class="t">10<tspan dy="-1.8" font-size="3.01">0</tspan></text>
<text x="172.15" y="410.90" text-anchor="middle" class="t al" style="font-size:4.3px"><tspan font-style="italic" style="font-size:4.7px">f</tspan><tspan style="font-size:3.1px" dy="1.5">1</tspan><tspan dy="-1.5" dx="1.2"> selected feature rate</tspan></text>
<text transform="translate(121.87,371.55) rotate(-90)" text-anchor="middle" class="t al" style="font-size:4.3px"><tspan font-style="italic" style="font-size:4.7px">f</tspan><tspan style="font-size:3.1px" dy="1.5">2</tspan><tspan dy="-1.5" dx="0.9"> classification error rate</tspan></text>
<text transform="translate(164.60,426.65) scale(1.08,1)" text-anchor="middle" class="lt">(q)</text>
<polyline points="133.40,346.80 139.00,396.00 142.60,399.90" fill="none" stroke="#ff0000" stroke-width="0.4" stroke-opacity="0.5"/>
<circle cx="133.40" cy="346.80" r="1.15" fill="#ff0000"/>
<circle cx="139.00" cy="396.00" r="1.15" fill="#ff0000"/>
<circle cx="142.60" cy="399.90" r="1.15" fill="#ff0000"/>
<rect x="201.95" y="378.65" width="1.90" height="1.90" fill="#0000ff"/>
<path d="M203.10 382.65L204.05 384.31L202.15 384.31Z" fill="#00ff00" stroke="#00ff00" stroke-width="0.75" stroke-linejoin="round"/>
<path d="M242.20 343.50H320.60V399.60" fill="none" stroke="#e4e4e4" stroke-width="0.8"/>
<path d="M242.20 343.50V399.60H320.60" fill="none" stroke="#d8d8d8" stroke-width="0.85"/>
<text x="281.40" y="342.70" text-anchor="middle" class="t tt">Orlraws10P</text>
<text x="240.90" y="345.35" text-anchor="end" class="t">0.5</text>
<line x1="242.20" y1="343.50" x2="243.30" y2="343.50" stroke="#d8d8d8" stroke-width="0.6"/>
<text x="240.90" y="356.57" text-anchor="end" class="t">0.4</text>
<line x1="242.20" y1="354.72" x2="243.30" y2="354.72" stroke="#d8d8d8" stroke-width="0.6"/>
<text x="240.90" y="367.79" text-anchor="end" class="t">0.3</text>
<line x1="242.20" y1="365.94" x2="243.30" y2="365.94" stroke="#d8d8d8" stroke-width="0.6"/>
<text x="240.90" y="379.01" text-anchor="end" class="t">0.2</text>
<line x1="242.20" y1="377.16" x2="243.30" y2="377.16" stroke="#d8d8d8" stroke-width="0.6"/>
<text x="240.90" y="390.23" text-anchor="end" class="t">0.1</text>
<line x1="242.20" y1="388.38" x2="243.30" y2="388.38" stroke="#d8d8d8" stroke-width="0.6"/>
<text x="240.90" y="401.45" text-anchor="end" class="t">0</text>
<line x1="242.20" y1="399.60" x2="243.30" y2="399.60" stroke="#d8d8d8" stroke-width="0.6"/>
<line x1="320.60" y1="399.60" x2="320.60" y2="398.50" stroke="#d8d8d8" stroke-width="0.6"/>
<text x="318.00" y="406.30" class="t">10<tspan dy="-1.8" font-size="3.01">0</tspan></text>
<text x="282.00" y="410.90" text-anchor="middle" class="t al" style="font-size:4.3px"><tspan font-style="italic" style="font-size:4.7px">f</tspan><tspan style="font-size:3.1px" dy="1.5">1</tspan><tspan dy="-1.5" dx="1.2"> selected feature rate</tspan></text>
<text transform="translate(232.72,371.55) rotate(-90)" text-anchor="middle" class="t al" style="font-size:4.3px"><tspan font-style="italic" style="font-size:4.7px">f</tspan><tspan style="font-size:3.1px" dy="1.5">2</tspan><tspan dy="-1.5" dx="0.9"> classification error rate</tspan></text>
<text transform="translate(275.60,426.65) scale(1.08,1)" text-anchor="middle" class="lt">(r)</text>
<polyline points="242.40,349.70 248.20,377.00 251.40,385.20 253.80,388.30 256.20,393.10 261.00,395.10 262.20,396.80 264.10,398.40 276.00,399.70" fill="none" stroke="#ff0000" stroke-width="0.4" stroke-opacity="0.5"/>
<polyline points="313.90,380.40 313.90,382.20" fill="none" stroke="#00ff00" stroke-width="0.4" stroke-opacity="0.5"/>
<circle cx="242.40" cy="349.70" r="1.15" fill="#ff0000"/>
<circle cx="248.20" cy="377.00" r="1.15" fill="#ff0000"/>
<circle cx="251.40" cy="385.20" r="1.15" fill="#ff0000"/>
<circle cx="253.80" cy="388.30" r="1.15" fill="#ff0000"/>
<circle cx="256.20" cy="393.10" r="1.15" fill="#ff0000"/>
<circle cx="261.00" cy="395.10" r="1.15" fill="#ff0000"/>
<circle cx="262.20" cy="396.80" r="1.15" fill="#ff0000"/>
<circle cx="264.10" cy="398.40" r="1.15" fill="#ff0000"/>
<circle cx="276.00" cy="399.70" r="1.15" fill="#ff0000"/>
<rect x="312.95" y="381.55" width="1.90" height="1.90" fill="#0000ff"/>
<path d="M313.90 379.45L314.85 381.11L312.95 381.11Z" fill="#00ff00" stroke="#00ff00" stroke-width="0.75" stroke-linejoin="round"/>
<path d="M313.90 381.25L314.85 382.91L312.95 382.91Z" fill="#00ff00" stroke="#00ff00" stroke-width="0.75" stroke-linejoin="round"/>
<path d="M313.90 379.65L314.95 377.81L312.85 377.81Z" fill="#ff00ff" stroke="#ff00ff" stroke-width="0.60" stroke-linejoin="round"/>
<path d="M355.00 343.50H431.40V399.60" fill="none" stroke="#e4e4e4" stroke-width="0.8"/>
<path d="M355.00 343.50V399.60H431.40" fill="none" stroke="#d8d8d8" stroke-width="0.85"/>
<text x="393.20" y="342.70" text-anchor="middle" class="t tt">Brain2</text>
<text x="353.70" y="345.35" text-anchor="end" class="t">0.35</text>
<line x1="355.00" y1="343.50" x2="356.10" y2="343.50" stroke="#d8d8d8" stroke-width="0.6"/>
<text x="353.70" y="353.36" text-anchor="end" class="t">0.3</text>
<line x1="355.00" y1="351.51" x2="356.10" y2="351.51" stroke="#d8d8d8" stroke-width="0.6"/>
<text x="353.70" y="361.38" text-anchor="end" class="t">0.25</text>
<line x1="355.00" y1="359.53" x2="356.10" y2="359.53" stroke="#d8d8d8" stroke-width="0.6"/>
<text x="353.70" y="369.39" text-anchor="end" class="t">0.2</text>
<line x1="355.00" y1="367.54" x2="356.10" y2="367.54" stroke="#d8d8d8" stroke-width="0.6"/>
<text x="353.70" y="377.41" text-anchor="end" class="t">0.15</text>
<line x1="355.00" y1="375.56" x2="356.10" y2="375.56" stroke="#d8d8d8" stroke-width="0.6"/>
<text x="353.70" y="385.42" text-anchor="end" class="t">0.1</text>
<line x1="355.00" y1="383.57" x2="356.10" y2="383.57" stroke="#d8d8d8" stroke-width="0.6"/>
<text x="353.70" y="393.44" text-anchor="end" class="t">0.05</text>
<line x1="355.00" y1="391.59" x2="356.10" y2="391.59" stroke="#d8d8d8" stroke-width="0.6"/>
<text x="353.70" y="401.45" text-anchor="end" class="t">0</text>
<line x1="355.00" y1="399.60" x2="356.10" y2="399.60" stroke="#d8d8d8" stroke-width="0.6"/>
<line x1="431.40" y1="399.60" x2="431.40" y2="398.50" stroke="#d8d8d8" stroke-width="0.6"/>
<text x="428.80" y="406.30" class="t">10<tspan dy="-1.8" font-size="3.01">0</tspan></text>
<text x="393.80" y="410.90" text-anchor="middle" class="t al" style="font-size:4.3px"><tspan font-style="italic" style="font-size:4.7px">f</tspan><tspan style="font-size:3.1px" dy="1.5">1</tspan><tspan dy="-1.5" dx="1.2"> selected feature rate</tspan></text>
<text transform="translate(343.38,371.55) rotate(-90)" text-anchor="middle" class="t al" style="font-size:4.3px"><tspan font-style="italic" style="font-size:4.7px">f</tspan><tspan style="font-size:3.1px" dy="1.5">2</tspan><tspan dy="-1.5" dx="0.9"> classification error rate</tspan></text>
<text transform="translate(386.60,426.65) scale(1.08,1)" text-anchor="middle" class="lt">(s)</text>
<polyline points="355.30,345.60 360.90,365.90 364.30,379.40 366.70,391.90 368.60,396.00 370.30,399.70" fill="none" stroke="#ff0000" stroke-width="0.4" stroke-opacity="0.5"/>
<polyline points="424.90,365.40 424.90,370.10" fill="none" stroke="#00ff00" stroke-width="0.4" stroke-opacity="0.5"/>
<polyline points="425.10,359.20 425.10,368.60" fill="none" stroke="#00ffff" stroke-width="0.4" stroke-opacity="0.5"/>
<circle cx="355.30" cy="345.60" r="1.15" fill="#ff0000"/>
<circle cx="360.90" cy="365.90" r="1.15" fill="#ff0000"/>
<circle cx="364.30" cy="379.40" r="1.15" fill="#ff0000"/>
<circle cx="366.70" cy="391.90" r="1.15" fill="#ff0000"/>
<circle cx="368.60" cy="396.00" r="1.15" fill="#ff0000"/>
<circle cx="370.30" cy="399.70" r="1.15" fill="#ff0000"/>
<rect x="423.95" y="362.35" width="1.90" height="1.90" fill="#0000ff"/>
<path d="M424.90 364.45L425.85 366.11L423.95 366.11Z" fill="#00ff00" stroke="#00ff00" stroke-width="0.75" stroke-linejoin="round"/>
<path d="M424.90 369.15L425.85 370.81L423.95 370.81Z" fill="#00ff00" stroke="#00ff00" stroke-width="0.75" stroke-linejoin="round"/>
<path d="M425.80 368.45L426.85 366.61L424.75 366.61Z" fill="#ff00ff" stroke="#ff00ff" stroke-width="0.60" stroke-linejoin="round"/>
<path d="M425.10 357.80L426.22 359.20L425.10 360.60L423.98 359.20Z" fill="#00ffff"/>
<path d="M425.10 367.20L426.22 368.60L425.10 370.00L423.98 368.60Z" fill="#00ffff"/>
<path d="M466.00 343.50H542.50V399.60" fill="none" stroke="#e4e4e4" stroke-width="0.8"/>
<path d="M466.00 343.50V399.60H542.50" fill="none" stroke="#d8d8d8" stroke-width="0.85"/>
<text x="504.25" y="342.70" text-anchor="middle" class="t tt">Prostate</text>
<text x="464.70" y="345.35" text-anchor="end" class="t">0.25</text>
<line x1="466.00" y1="343.50" x2="467.10" y2="343.50" stroke="#d8d8d8" stroke-width="0.6"/>
<text x="464.70" y="356.57" text-anchor="end" class="t">0.2</text>
<line x1="466.00" y1="354.72" x2="467.10" y2="354.72" stroke="#d8d8d8" stroke-width="0.6"/>
<text x="464.70" y="367.79" text-anchor="end" class="t">0.15</text>
<line x1="466.00" y1="365.94" x2="467.10" y2="365.94" stroke="#d8d8d8" stroke-width="0.6"/>
<text x="464.70" y="379.01" text-anchor="end" class="t">0.1</text>
<line x1="466.00" y1="377.16" x2="467.10" y2="377.16" stroke="#d8d8d8" stroke-width="0.6"/>
<text x="464.70" y="390.23" text-anchor="end" class="t">0.05</text>
<line x1="466.00" y1="388.38" x2="467.10" y2="388.38" stroke="#d8d8d8" stroke-width="0.6"/>
<text x="464.70" y="401.45" text-anchor="end" class="t">0</text>
<line x1="466.00" y1="399.60" x2="467.10" y2="399.60" stroke="#d8d8d8" stroke-width="0.6"/>
<line x1="542.50" y1="399.60" x2="542.50" y2="398.50" stroke="#d8d8d8" stroke-width="0.6"/>
<text x="539.90" y="406.30" class="t">10<tspan dy="-1.8" font-size="3.01">0</tspan></text>
<text x="504.85" y="410.90" text-anchor="middle" class="t al" style="font-size:4.3px"><tspan font-style="italic" style="font-size:4.7px">f</tspan><tspan style="font-size:3.1px" dy="1.5">1</tspan><tspan dy="-1.5" dx="1.2"> selected feature rate</tspan></text>
<text transform="translate(454.38,371.55) rotate(-90)" text-anchor="middle" class="t al" style="font-size:4.3px"><tspan font-style="italic" style="font-size:4.7px">f</tspan><tspan style="font-size:3.1px" dy="1.5">2</tspan><tspan dy="-1.5" dx="0.9"> classification error rate</tspan></text>
<text transform="translate(497.60,426.65) scale(1.08,1)" text-anchor="middle" class="lt">(t)</text>
<polyline points="466.00,355.00 471.80,371.00 475.50,377.50 477.40,386.60 479.30,390.20 481.00,399.90" fill="none" stroke="#ff0000" stroke-width="0.4" stroke-opacity="0.5"/>
<polyline points="536.10,361.50 536.10,364.70" fill="none" stroke="#00ff00" stroke-width="0.4" stroke-opacity="0.5"/>
<polyline points="536.10,352.90 536.10,355.70 536.40,359.50 536.20,363.00" fill="none" stroke="#00ffff" stroke-width="0.4" stroke-opacity="0.5"/>
<circle cx="466.00" cy="355.00" r="1.15" fill="#ff0000"/>
<circle cx="471.80" cy="371.00" r="1.15" fill="#ff0000"/>
<circle cx="475.50" cy="377.50" r="1.15" fill="#ff0000"/>
<circle cx="477.40" cy="386.60" r="1.15" fill="#ff0000"/>
<circle cx="479.30" cy="390.20" r="1.15" fill="#ff0000"/>
<circle cx="481.00" cy="399.90" r="1.15" fill="#ff0000"/>
<rect x="534.95" y="357.35" width="1.90" height="1.90" fill="#0000ff"/>
<path d="M536.10 360.55L537.05 362.21L535.15 362.21Z" fill="#00ff00" stroke="#00ff00" stroke-width="0.75" stroke-linejoin="round"/>
<path d="M536.10 363.75L537.05 365.41L535.15 365.41Z" fill="#00ff00" stroke="#00ff00" stroke-width="0.75" stroke-linejoin="round"/>
<path d="M536.10 351.50L537.22 352.90L536.10 354.30L534.98 352.90Z" fill="#00ffff"/>
<path d="M536.10 354.30L537.22 355.70L536.10 357.10L534.98 355.70Z" fill="#00ffff"/>
<path d="M536.40 358.10L537.52 359.50L536.40 360.90L535.28 359.50Z" fill="#00ffff"/>
<path d="M536.20 361.60L537.32 363.00L536.20 364.40L535.08 363.00Z" fill="#00ffff"/>
<rect x="192.2" y="8.7" width="174.8" height="8.3" fill="#fff" stroke="#bbb" stroke-width="0.6"/>
<circle cx="199.30" cy="12.90" r="1.84" fill="#ff0000"/>
<text x="206" y="14.9" class="lg">IPEA</text>
<path d="M227.20 11.52L228.48 13.76L225.92 13.76Z" fill="#00ff00" stroke="#00ff00" stroke-width="1.01" stroke-linejoin="round"/>
<text x="233.7" y="14.9" class="lg">NSGA-II</text>
<rect x="262.46" y="11.76" width="2.28" height="2.28" fill="#0000ff"/>
<text x="270.4" y="14.9" class="lg">MOEA/D</text>
<path d="M301.50 10.66L303.29 12.90L301.50 15.14L299.71 12.90Z" fill="#00ffff"/>
<text x="308" y="14.9" class="lg">MOEA/HD</text>
<path d="M342.70 14.17L344.06 11.78L341.33 11.78Z" fill="#ff00ff" stroke="#ff00ff" stroke-width="0.78" stroke-linejoin="round"/>
<text x="350" y="14.9" class="lg">PMEA</text>
</svg>
</body></html>
